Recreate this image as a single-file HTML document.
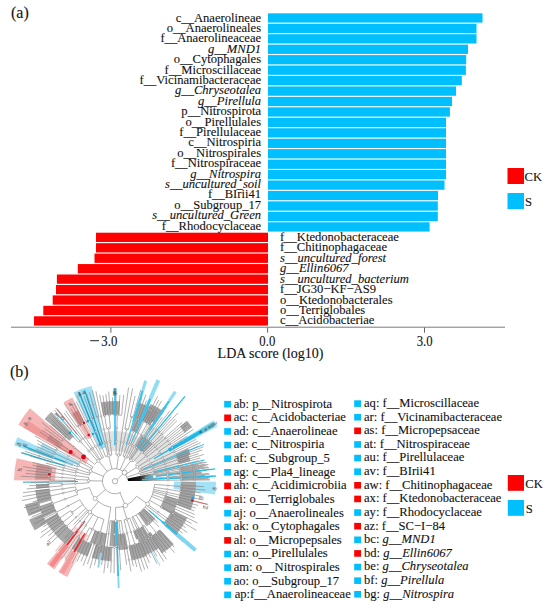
<!DOCTYPE html>
<html><head><meta charset="utf-8"><style>
html,body{margin:0;padding:0;background:#fff;}
body{width:550px;height:609px;overflow:hidden;position:relative;}
svg{position:absolute;left:0;top:0;}
text{font-family:"Liberation Serif",serif;fill:#111;stroke:#111;stroke-width:0.1px;}
.i{font-style:italic;}
</style></head><body>
<svg width="550" height="609" viewBox="0 0 550 609">
<text x="11" y="17.7" font-size="16">(a)</text>
<rect x="268.0" y="13.30" width="214.50" height="9.3" fill="#00BFFF"/>
<text x="261.1" y="21.55" font-size="12.6" text-anchor="end">c__Anaerolineae</text>
<rect x="268.0" y="23.75" width="208.50" height="9.3" fill="#00BFFF"/>
<text x="261.1" y="31.95" font-size="12.6" text-anchor="end">o__Anaerolineales</text>
<rect x="268.0" y="34.20" width="208.50" height="9.3" fill="#00BFFF"/>
<text x="261.1" y="42.36" font-size="12.6" text-anchor="end">f__Anaerolineaceae</text>
<rect x="268.0" y="44.64" width="200.00" height="9.3" fill="#00BFFF"/>
<text x="261.1" y="52.76" font-size="12.6" text-anchor="end" class="i">g__MND1</text>
<rect x="268.0" y="55.09" width="198.20" height="9.3" fill="#00BFFF"/>
<text x="261.1" y="63.16" font-size="12.6" text-anchor="end">o__Cytophagales</text>
<rect x="268.0" y="65.54" width="197.90" height="9.3" fill="#00BFFF"/>
<text x="261.1" y="73.57" font-size="12.6" text-anchor="end">f__Microscillaceae</text>
<rect x="268.0" y="75.99" width="193.80" height="9.3" fill="#00BFFF"/>
<text x="261.1" y="83.97" font-size="12.6" text-anchor="end">f__Vicinamibacteraceae</text>
<rect x="268.0" y="86.44" width="188.00" height="9.3" fill="#00BFFF"/>
<text x="261.1" y="94.37" font-size="12.6" text-anchor="end" class="i">g__Chryseotalea</text>
<rect x="268.0" y="96.88" width="184.00" height="9.3" fill="#00BFFF"/>
<text x="261.1" y="104.77" font-size="12.6" text-anchor="end" class="i">g__Pirellula</text>
<rect x="268.0" y="107.33" width="181.90" height="9.3" fill="#00BFFF"/>
<text x="261.1" y="115.18" font-size="12.6" text-anchor="end">p__Nitrospirota</text>
<rect x="268.0" y="117.78" width="178.00" height="9.3" fill="#00BFFF"/>
<text x="261.1" y="125.58" font-size="12.6" text-anchor="end">o__Pirellulales</text>
<rect x="268.0" y="128.23" width="178.00" height="9.3" fill="#00BFFF"/>
<text x="261.1" y="135.98" font-size="12.6" text-anchor="end">f__Pirellulaceae</text>
<rect x="268.0" y="138.68" width="178.00" height="9.3" fill="#00BFFF"/>
<text x="261.1" y="146.39" font-size="12.6" text-anchor="end">c__Nitrospiria</text>
<rect x="268.0" y="149.12" width="178.00" height="9.3" fill="#00BFFF"/>
<text x="261.1" y="156.79" font-size="12.6" text-anchor="end">o__Nitrospirales</text>
<rect x="268.0" y="159.57" width="178.00" height="9.3" fill="#00BFFF"/>
<text x="261.1" y="167.19" font-size="12.6" text-anchor="end">f__Nitrospiraceae</text>
<rect x="268.0" y="170.02" width="178.00" height="9.3" fill="#00BFFF"/>
<text x="261.1" y="177.59" font-size="12.6" text-anchor="end" class="i">g__Nitrospira</text>
<rect x="268.0" y="180.47" width="176.50" height="9.3" fill="#00BFFF"/>
<text x="261.1" y="188.00" font-size="12.6" text-anchor="end" class="i">s__uncultured_soil</text>
<rect x="268.0" y="190.92" width="170.00" height="9.3" fill="#00BFFF"/>
<text x="261.1" y="198.40" font-size="12.6" text-anchor="end">f__BIrii41</text>
<rect x="268.0" y="201.36" width="169.80" height="9.3" fill="#00BFFF"/>
<text x="261.1" y="208.80" font-size="12.6" text-anchor="end">o__Subgroup_17</text>
<rect x="268.0" y="211.81" width="169.80" height="9.3" fill="#00BFFF"/>
<text x="261.1" y="219.21" font-size="12.6" text-anchor="end" class="i">s__uncultured_Green</text>
<rect x="268.0" y="222.26" width="161.60" height="9.3" fill="#00BFFF"/>
<text x="261.1" y="229.61" font-size="12.6" text-anchor="end">f__Rhodocyclaceae</text>
<rect x="96" y="232.71" width="172.00" height="9.3" fill="#FF0000"/>
<text x="280" y="240.91" font-size="12.6">f__Ktedonobacteraceae</text>
<rect x="96" y="243.16" width="172.00" height="9.3" fill="#FF0000"/>
<text x="280" y="251.36" font-size="12.6">f__Chitinophagaceae</text>
<rect x="94.5" y="253.60" width="173.50" height="9.3" fill="#FF0000"/>
<text x="280" y="261.80" font-size="12.6" class="i">s__uncultured_forest</text>
<rect x="77.8" y="264.05" width="190.20" height="9.3" fill="#FF0000"/>
<text x="280" y="272.25" font-size="12.6" class="i">g__Ellin6067</text>
<rect x="56.9" y="274.50" width="211.10" height="9.3" fill="#FF0000"/>
<text x="280" y="282.70" font-size="12.6" class="i">s__uncultured_bacterium</text>
<rect x="56" y="284.95" width="212.00" height="9.3" fill="#FF0000"/>
<text x="280" y="293.15" font-size="12.6">f__JG30−KF−AS9</text>
<rect x="52.7" y="295.40" width="215.30" height="9.3" fill="#FF0000"/>
<text x="280" y="303.60" font-size="12.6">o__Ktedonobacterales</text>
<rect x="43.3" y="305.84" width="224.70" height="9.3" fill="#FF0000"/>
<text x="280" y="314.04" font-size="12.6">o__Terriglobales</text>
<rect x="34" y="316.29" width="234.00" height="9.3" fill="#FF0000"/>
<text x="280" y="324.49" font-size="12.6">c__Acidobacteriae</text>
<line x1="11" y1="327.2" x2="505" y2="327.2" stroke="#7a7a7a" stroke-width="1"/>
<line x1="110.9" y1="327.5" x2="110.9" y2="332.7" stroke="#555" stroke-width="0.9"/>
<line x1="267.6" y1="327.5" x2="267.6" y2="332.7" stroke="#555" stroke-width="0.9"/>
<line x1="424.5" y1="327.5" x2="424.5" y2="332.7" stroke="#555" stroke-width="0.9"/>
<rect x="90.2" y="340.2" width="8.8" height="1.0" fill="#222"/>
<text transform="translate(109.3,345.6) scale(0.91,1)" font-size="14" text-anchor="middle">3.0</text>
<text transform="translate(267.3,345.6) scale(0.91,1)" font-size="14" text-anchor="middle">0.0</text>
<text transform="translate(424.7,345.6) scale(0.91,1)" font-size="14" text-anchor="middle">3.0</text>
<text x="270.5" y="357.5" font-size="14" text-anchor="middle">LDA score (log10)</text>
<rect x="507.5" y="168" width="16.5" height="16" fill="#FF0000"/>
<rect x="507.5" y="193" width="16.5" height="16" fill="#00BFFF"/>
<text x="524.5" y="181.3" font-size="12.6">CK</text>
<text x="525" y="205.6" font-size="12.6">S</text>
<text x="10" y="376.7" font-size="16">(b)</text>
<rect x="224.2" y="400.90" width="6.8" height="6.6" fill="#00BFFF"/>
<text x="233.7" y="407.60" font-size="12.6" xml:space="preserve">ab: p__Nitrospirota</text>
<rect x="224.2" y="414.52" width="6.8" height="6.6" fill="#FF0000"/>
<text x="233.7" y="421.22" font-size="12.6" xml:space="preserve">ac: c__Acidobacteriae</text>
<rect x="224.2" y="428.14" width="6.8" height="6.6" fill="#00BFFF"/>
<text x="233.7" y="434.84" font-size="12.6" xml:space="preserve">ad: c__Anaerolineae</text>
<rect x="224.2" y="441.76" width="6.8" height="6.6" fill="#00BFFF"/>
<text x="233.7" y="448.46" font-size="12.6" xml:space="preserve">ae: c__Nitrospiria</text>
<rect x="224.2" y="455.38" width="6.8" height="6.6" fill="#00BFFF"/>
<text x="233.7" y="462.08" font-size="12.6" xml:space="preserve">af: c__Subgroup_5</text>
<rect x="224.2" y="469.00" width="6.8" height="6.6" fill="#00BFFF"/>
<text x="233.7" y="475.70" font-size="12.6" xml:space="preserve">ag: c__Pla4_lineage</text>
<rect x="224.2" y="482.62" width="6.8" height="6.6" fill="#FF0000"/>
<text x="233.7" y="489.32" font-size="12.6" xml:space="preserve">ah: c__Acidimicrobiia</text>
<rect x="224.2" y="496.24" width="6.8" height="6.6" fill="#FF0000"/>
<text x="233.7" y="502.94" font-size="12.6" xml:space="preserve">ai: o__Terriglobales</text>
<rect x="224.2" y="509.86" width="6.8" height="6.6" fill="#00BFFF"/>
<text x="233.7" y="516.56" font-size="12.6" xml:space="preserve">aj: o__Anaerolineales</text>
<rect x="224.2" y="523.48" width="6.8" height="6.6" fill="#00BFFF"/>
<text x="233.7" y="530.18" font-size="12.6" xml:space="preserve">ak: o__Cytophagales</text>
<rect x="224.2" y="537.10" width="6.8" height="6.6" fill="#FF0000"/>
<text x="233.7" y="543.80" font-size="12.6" xml:space="preserve">al: o__Micropepsales</text>
<rect x="224.2" y="550.72" width="6.8" height="6.6" fill="#00BFFF"/>
<text x="233.7" y="557.42" font-size="12.6" xml:space="preserve">an: o__Pirellulales</text>
<rect x="224.2" y="564.34" width="6.8" height="6.6" fill="#00BFFF"/>
<text x="233.7" y="571.04" font-size="12.6" xml:space="preserve">am: o__Nitrospirales</text>
<rect x="224.2" y="577.96" width="6.8" height="6.6" fill="#00BFFF"/>
<text x="233.7" y="584.66" font-size="12.6" xml:space="preserve">ao: o__Subgroup_17</text>
<rect x="224.2" y="591.58" width="6.8" height="6.6" fill="#00BFFF"/>
<text x="234.7" y="598.28" font-size="12.6" xml:space="preserve">ap:f__Anaerolineaceae</text>
<rect x="354.2" y="400.30" width="6.8" height="6.6" fill="#00BFFF"/>
<text x="364.0" y="407.00" font-size="12.6" xml:space="preserve">aq: f__Microscillaceae</text>
<rect x="354.2" y="413.92" width="6.8" height="6.6" fill="#00BFFF"/>
<text x="364.0" y="420.62" font-size="12.6" xml:space="preserve">ar: f__Vicinamibacteraceae</text>
<rect x="354.2" y="427.54" width="6.8" height="6.6" fill="#FF0000"/>
<text x="364.0" y="434.24" font-size="12.6" xml:space="preserve">as: f__Micropepsaceae</text>
<rect x="354.2" y="441.16" width="6.8" height="6.6" fill="#00BFFF"/>
<text x="364.0" y="447.86" font-size="12.6" xml:space="preserve">at: f__Nitrospiraceae</text>
<rect x="354.2" y="454.78" width="6.8" height="6.6" fill="#00BFFF"/>
<text x="364.0" y="461.48" font-size="12.6" xml:space="preserve">au: f__Pirellulaceae</text>
<rect x="354.2" y="468.40" width="6.8" height="6.6" fill="#00BFFF"/>
<text x="364.0" y="475.10" font-size="12.6" xml:space="preserve">av: f__BIrii41</text>
<rect x="354.2" y="482.02" width="6.8" height="6.6" fill="#FF0000"/>
<text x="364.0" y="488.72" font-size="12.6" xml:space="preserve">aw: f__Chitinophagaceae</text>
<rect x="354.2" y="495.64" width="6.8" height="6.6" fill="#FF0000"/>
<text x="364.0" y="502.34" font-size="12.6" xml:space="preserve">ax: f__Ktedonobacteraceae</text>
<rect x="354.2" y="509.26" width="6.8" height="6.6" fill="#00BFFF"/>
<text x="364.0" y="515.96" font-size="12.6" xml:space="preserve">ay: f__Rhodocyclaceae</text>
<rect x="354.2" y="522.88" width="6.8" height="6.6" fill="#FF0000"/>
<text x="364.0" y="529.58" font-size="12.6" xml:space="preserve">az: f__SC−I−84</text>
<rect x="354.2" y="536.50" width="6.8" height="6.6" fill="#00BFFF"/>
<text x="364.0" y="543.20" font-size="12.6" xml:space="preserve">bc: <tspan class="i">g__MND1</tspan></text>
<rect x="354.2" y="550.12" width="6.8" height="6.6" fill="#FF0000"/>
<text x="364.0" y="556.82" font-size="12.6" xml:space="preserve">bd: <tspan class="i">g__Ellin6067</tspan></text>
<rect x="354.2" y="563.74" width="6.8" height="6.6" fill="#00BFFF"/>
<text x="364.0" y="570.44" font-size="12.6" xml:space="preserve">be: <tspan class="i">g__Chryseotalea</tspan></text>
<rect x="354.2" y="577.36" width="6.8" height="6.6" fill="#00BFFF"/>
<text x="364.0" y="584.06" font-size="12.6" xml:space="preserve">bf: <tspan class="i">g__Pirellula</tspan></text>
<rect x="354.2" y="590.98" width="6.8" height="6.6" fill="#00BFFF"/>
<text x="364.0" y="597.68" font-size="12.6" xml:space="preserve">bg: <tspan class="i">g__Nitrospira</tspan></text>
<rect x="507.8" y="475" width="16.2" height="15.8" fill="#FF0000"/>
<rect x="507.8" y="500" width="16.2" height="15.8" fill="#00BFFF"/>
<text x="525.3" y="487.6" font-size="12.6">CK</text>
<text x="525.8" y="513" font-size="12.6">S</text>
<g stroke="none">
<path d="M216.00,481.73A101.00,101.00 0 0 1 215.14,494.38L173.50,488.90A59.00,59.00 0 0 0 174.00,481.51Z" fill="#a2e2f6"/>
<path d="M73.58,392.38A98.00,98.00 0 0 1 91.29,386.11L106.53,447.24A35.00,35.00 0 0 0 100.21,449.48Z" fill="#a2e2f6"/>
<path d="M14.14,445.48A107.00,107.00 0 0 1 17.40,437.34L73.95,462.75A45.00,45.00 0 0 0 72.58,466.18Z" fill="#a2e2f6"/>
<path d="M39.52,449.16A82.00,82.00 0 0 1 42.27,443.34L80.41,463.19A39.00,39.00 0 0 0 79.10,465.96Z" fill="#a2e2f6"/>
<path d="M213.69,420.25A116.00,116.00 0 0 1 217.33,426.56L181.16,445.87A75.00,75.00 0 0 0 178.81,441.79Z" fill="#a2e2f6"/>
<path d="M14.00,480.32A101.00,101.00 0 0 1 16.67,458.14L56.59,467.50A60.00,60.00 0 0 0 55.00,480.68Z" fill="#f6b6b6"/>
<path d="M18.30,424.69A112.00,112.00 0 0 1 29.96,408.31L89.18,459.07A34.00,34.00 0 0 0 85.64,464.05Z" fill="#f6b6b6"/>
<path d="M63.80,402.36A94.00,94.00 0 0 1 72.32,397.45L92.30,436.65A50.00,50.00 0 0 0 87.77,439.27Z" fill="#f6b6b6"/>
<path d="M54.39,569.38A107.00,107.00 0 0 1 46.94,563.76L75.56,529.04A62.00,62.00 0 0 0 79.88,532.30Z" fill="#f6b6b6"/>
<path d="M67.26,576.96A107.00,107.00 0 0 1 58.30,571.94L82.15,533.78A62.00,62.00 0 0 0 87.34,536.69Z" fill="#f6b6b6"/>
<path d="M74.67,563.89A92.00,92.00 0 0 1 54.64,550.63L75.64,526.48A60.00,60.00 0 0 0 88.70,535.13Z" fill="#fbd6d6"/>
<path d="M35.02,479.52A80.00,80.00 0 0 1 36.90,463.88L52.52,467.35A64.00,64.00 0 0 0 51.01,479.86Z" fill="#cf9494"/>
<path d="M23.67,427.40A106.00,106.00 0 0 1 28.17,420.40L75.68,453.67A48.00,48.00 0 0 0 73.64,456.84Z" fill="#f09a9a"/>
<path d="M46.43,440.00A80.00,80.00 0 0 1 49.87,434.74L62.90,444.04A64.00,64.00 0 0 0 60.14,448.24Z" fill="#d48888"/>
<path d="M72.02,413.73A80.00,80.00 0 0 1 78.06,410.24L84.99,423.54A65.00,65.00 0 0 0 80.08,426.38Z" fill="#dc8484"/>
<path d="M148.00,424.04A66.00,66.00 0 0 1 179.31,466.35L142.28,474.90A28.00,28.00 0 0 0 129.00,456.95Z M102.06,432.90A50.00,50.00 0 0 1 140.00,437.90L130.00,455.22A30.00,30.00 0 0 0 107.24,452.22Z" fill="#e2e2e2"/>
<path d="M196.00,481.91A81.00,81.00 0 0 1 190.62,510.23L176.62,504.85A66.00,66.00 0 0 0 181.00,481.78Z M178.44,499.39A66.00,66.00 0 0 1 172.16,514.20L160.03,507.20A52.00,52.00 0 0 0 164.99,495.53Z M187.17,517.97A81.00,81.00 0 0 1 177.05,533.27L164.03,522.34A64.00,64.00 0 0 0 172.02,510.26Z M155.22,518.71A55.00,55.00 0 0 1 146.55,526.25L137.94,513.97A40.00,40.00 0 0 0 144.25,508.48Z M173.65,544.10A86.00,86.00 0 0 1 161.84,553.33L150.95,536.55A66.00,66.00 0 0 0 160.01,529.47Z M160.89,546.73A80.00,80.00 0 0 1 144.97,555.37L138.23,538.69A62.00,62.00 0 0 0 150.56,531.99Z M147.85,533.78A62.00,62.00 0 0 1 136.21,539.46L133.13,531.00A53.00,53.00 0 0 0 143.09,526.15Z M146.65,555.76A81.00,81.00 0 0 1 131.84,560.43L128.72,545.76A66.00,66.00 0 0 0 140.79,541.95Z M128.17,548.93A69.00,69.00 0 0 1 118.61,550.11L117.77,534.13A53.00,53.00 0 0 0 125.11,533.23Z M119.53,546.04A65.00,65.00 0 0 1 109.33,545.95L111.51,521.05A40.00,40.00 0 0 0 117.79,521.10Z M110.81,561.09A80.00,80.00 0 0 1 91.61,557.70L95.70,544.32A66.00,66.00 0 0 0 111.55,547.11Z M104.68,546.39A66.00,66.00 0 0 1 90.28,542.39L95.15,530.34A53.00,53.00 0 0 0 106.71,533.55Z M87.64,556.38A80.00,80.00 0 0 1 71.43,548.29L78.51,537.39A67.00,67.00 0 0 0 92.08,544.16Z M65.75,544.24A80.00,80.00 0 0 1 53.72,532.62L64.44,523.62A66.00,66.00 0 0 0 74.37,533.21Z M53.27,532.09A80.00,80.00 0 0 1 45.03,519.98L57.28,513.20A66.00,66.00 0 0 0 64.07,523.18Z M34.85,530.31A94.00,94.00 0 0 1 29.13,519.43L41.92,513.74A80.00,80.00 0 0 0 46.79,523.00Z M43.72,517.52A80.00,80.00 0 0 1 39.36,507.25L52.60,502.69A66.00,66.00 0 0 0 56.19,511.16Z M28.77,516.04A93.00,93.00 0 0 1 24.96,504.49L38.52,500.98A79.00,79.00 0 0 0 41.75,510.79Z M38.10,503.25A80.00,80.00 0 0 1 35.51,490.26L49.42,488.67A66.00,66.00 0 0 0 51.56,499.39Z M36.36,488.77A79.00,79.00 0 0 1 36.06,484.37L49.05,483.85A66.00,66.00 0 0 0 49.30,487.53Z M44.60,418.91A94.00,94.00 0 0 1 51.49,411.90L73.79,436.23A61.00,61.00 0 0 0 69.31,440.78Z M101.11,402.42A80.00,80.00 0 0 1 119.88,401.35L119.09,414.32A67.00,67.00 0 0 0 103.37,415.22Z M138.97,402.78A82.00,82.00 0 0 1 158.45,411.66L149.97,425.23A66.00,66.00 0 0 0 134.30,418.08Z M150.92,404.16A85.00,85.00 0 0 1 163.75,411.57L155.15,423.86A70.00,70.00 0 0 0 144.58,417.76Z M141.50,435.30A53.00,53.00 0 0 1 152.48,443.72L143.28,452.92A40.00,40.00 0 0 0 135.00,446.56Z M187.01,420.78A94.00,94.00 0 0 1 192.00,427.28L184.63,432.45A85.00,85.00 0 0 0 180.11,426.56Z M188.08,448.66A80.00,80.00 0 0 1 190.41,454.50L178.16,458.83A67.00,67.00 0 0 0 176.21,453.95Z M186.80,450.72A78.00,78.00 0 0 1 190.34,461.01L178.75,464.12A66.00,66.00 0 0 0 175.75,455.41Z M135.40,418.43A66.00,66.00 0 0 1 142.89,421.38L137.40,433.17A53.00,53.00 0 0 0 131.38,430.79Z" fill="#b6b6b6"/>
<path d="M180.99,482.38L195.99,482.65 M180.96,483.59L195.95,484.14 M180.90,484.80L195.88,485.62 M180.82,486.01L195.78,487.11 M180.72,487.22L195.66,488.59 M180.60,488.43L195.51,490.07 M180.46,489.63L195.34,491.55 M180.29,490.83L195.13,493.02 M180.11,492.03L194.90,494.49 M179.90,493.22L194.64,495.96 M179.66,494.41L194.36,497.42 M179.41,495.60L194.05,498.87 M179.13,496.78L193.71,500.32 M178.84,497.96L193.35,501.76 M178.52,499.13L192.96,503.20 M178.18,500.29L192.54,504.63 M177.82,501.45L192.09,506.05 M177.44,502.60L191.63,507.46 M177.03,503.74L191.13,508.86 M164.82,496.10L178.23,500.12 M164.46,497.24L177.78,501.56 M164.08,498.37L177.30,502.99 M163.68,499.49L176.78,504.41 M163.25,500.59L176.24,505.82 M162.79,501.69L175.66,507.21 M162.31,502.78L175.05,508.59 M161.80,503.86L174.40,509.96 M161.27,504.92L173.73,511.31 M160.72,505.98L173.03,512.65 M160.14,507.02L172.29,513.97 M171.75,510.79L186.83,518.64 M171.19,511.84L186.12,519.97 M170.61,512.88L185.38,521.29 M170.01,513.91L184.62,522.60 M169.39,514.93L183.84,523.88 M168.76,515.93L183.03,525.16 M168.10,516.93L182.20,526.42 M167.42,517.91L181.35,527.66 M166.73,518.88L180.47,528.89 M166.02,519.84L179.57,530.10 M165.29,520.78L178.65,531.29 M164.55,521.71L177.71,532.47 M143.86,508.89L154.69,519.28 M143.06,509.70L153.59,520.39 M142.24,510.49L152.46,521.47 M141.40,511.25L151.30,522.52 M140.54,511.99L150.11,523.53 M139.65,512.70L148.89,524.51 M138.75,513.39L147.65,525.46 M159.58,529.87L173.09,544.61 M158.71,530.65L171.96,545.64 M157.82,531.42L170.80,546.64 M156.93,532.17L169.63,547.62 M156.01,532.91L168.44,548.58 M155.09,533.63L167.24,549.52 M154.15,534.33L166.02,550.43 M153.20,535.02L164.78,551.33 M152.24,535.69L163.52,552.20 M151.27,536.34L162.26,553.05 M150.08,532.32L160.26,547.17 M149.10,532.98L159.00,548.01 M148.11,533.62L157.72,548.84 M147.11,534.24L156.43,549.64 M146.09,534.84L155.12,550.41 M145.07,535.42L153.79,551.16 M144.03,535.98L152.46,551.89 M142.98,536.53L151.11,552.59 M141.93,537.05L149.74,553.26 M140.86,537.55L148.37,553.91 M139.78,538.03L146.98,554.53 M138.70,538.49L145.58,555.13 M142.56,526.47L147.24,534.16 M141.49,527.11L145.98,534.90 M140.40,527.72L144.71,535.62 M139.30,528.30L143.43,536.30 M138.19,528.86L142.13,536.95 M137.06,529.39L140.81,537.57 M135.93,529.89L139.48,538.16 M134.78,530.37L138.14,538.72 M133.62,530.82L136.78,539.25 M140.23,542.19L145.96,556.05 M139.10,542.64L144.58,556.60 M137.97,543.07L143.19,557.14 M136.83,543.48L141.79,557.64 M135.68,543.87L140.39,558.12 M134.53,544.24L138.97,558.57 M133.37,544.59L137.54,559.00 M132.20,544.92L136.11,559.40 M131.03,545.22L134.67,559.78 M129.85,545.51L133.22,560.12 M124.54,533.33L127.42,549.07 M123.38,533.53L125.91,549.33 M122.22,533.71L124.40,549.56 M121.06,533.85L122.89,549.75 M119.89,533.97L121.37,549.91 M118.72,534.07L119.84,550.03 M117.28,521.14L118.70,546.09 M116.25,521.18L117.03,546.17 M115.22,521.20L115.36,546.20 M114.19,521.19L113.69,546.19 M113.16,521.16L112.02,546.13 M112.14,521.10L110.35,546.03 M110.94,547.07L110.07,561.05 M109.72,546.99L108.60,560.94 M108.50,546.88L107.13,560.81 M107.29,546.75L105.65,560.65 M106.08,546.59L104.19,560.47 M104.87,546.42L102.72,560.25 M103.67,546.22L101.26,560.01 M102.47,546.00L99.81,559.74 M101.27,545.76L98.36,559.45 M100.08,545.49L96.91,559.13 M98.89,545.20L95.48,558.78 M97.71,544.90L94.04,558.41 M96.54,544.56L92.62,558.01 M106.12,533.45L103.94,546.27 M104.93,533.24L102.46,546.00 M103.75,532.99L101.00,545.70 M102.58,532.72L99.54,545.36 M101.42,532.43L98.08,545.00 M100.26,532.11L96.64,544.60 M99.11,531.76L95.21,544.16 M97.96,531.39L93.79,543.70 M96.83,530.99L92.37,543.20 M95.70,530.56L90.97,542.67 M91.51,543.95L86.95,556.12 M90.36,543.50L85.58,555.59 M89.22,543.04L84.22,555.04 M88.09,542.56L82.87,554.46 M86.97,542.05L81.53,553.86 M85.85,541.53L80.20,553.23 M84.75,540.98L78.88,552.58 M83.66,540.42L77.57,551.91 M82.57,539.83L76.28,551.21 M81.50,539.23L75.00,550.48 M80.44,538.60L73.74,549.74 M79.39,537.96L72.49,548.97 M73.89,532.83L65.17,543.78 M72.94,532.06L64.02,542.85 M72.01,531.28L62.89,541.90 M71.09,530.47L61.77,540.92 M70.18,529.65L60.68,539.93 M69.30,528.81L59.60,538.91 M68.42,527.96L58.54,537.88 M67.57,527.09L57.50,536.83 M66.73,526.21L56.49,535.75 M65.90,525.31L55.49,534.66 M65.09,524.39L54.51,533.55 M63.69,522.71L52.80,531.51 M62.93,521.75L51.88,530.35 M62.19,520.78L50.98,529.18 M61.46,519.80L50.11,527.99 M60.76,518.80L49.25,526.78 M60.07,517.79L48.42,525.56 M59.41,516.77L47.61,524.32 M58.76,515.74L46.83,523.06 M58.13,514.69L46.07,521.80 M57.52,513.63L45.33,520.51 M46.47,522.47L34.47,529.69 M45.83,521.40L33.73,528.44 M45.22,520.32L33.01,527.17 M44.62,519.24L32.30,525.89 M44.04,518.14L31.62,524.60 M43.47,517.03L30.96,523.30 M42.93,515.92L30.31,522.00 M42.40,514.80L29.69,520.68 M55.92,510.62L43.39,516.86 M55.39,509.52L42.74,515.53 M54.87,508.41L42.12,514.19 M54.38,507.30L41.52,512.83 M53.91,506.17L40.95,511.47 M53.46,505.04L40.40,510.09 M53.02,503.90L39.88,508.71 M52.62,502.75L39.38,507.32 M41.52,510.22L28.50,515.36 M41.08,509.06L27.98,514.00 M40.65,507.90L27.47,512.63 M40.24,506.73L26.99,511.25 M39.85,505.55L26.53,509.87 M39.47,504.37L26.09,508.47 M39.12,503.18L25.67,507.07 M38.78,501.99L25.28,505.67 M51.39,498.80L37.90,502.54 M51.08,497.63L37.52,501.11 M50.78,496.44L37.16,499.67 M50.51,495.25L36.83,498.23 M50.26,494.06L36.53,496.78 M50.04,492.86L36.26,495.33 M49.83,491.65L36.01,493.87 M49.65,490.45L35.79,492.41 M49.49,489.24L35.60,490.94 M49.25,486.91L36.30,488.04 M49.15,485.69L36.18,486.57 M49.08,484.46L36.10,485.10 M69.67,440.38L45.14,418.30 M70.39,439.60L46.25,417.10 M71.12,438.83L47.38,415.91 M71.86,438.07L48.52,414.74 M72.62,437.33L49.69,413.59 M73.39,436.60L50.88,412.46 M103.97,415.11L101.83,402.29 M105.19,414.92L103.28,402.06 M106.41,414.75L104.74,401.86 M107.63,414.61L106.20,401.69 M108.85,414.48L107.66,401.54 M110.08,414.38L109.12,401.42 M111.31,414.30L110.59,401.32 M112.54,414.25L112.06,401.25 M113.77,414.21L113.53,401.21 M115.00,414.20L115.00,401.20 M116.23,414.21L116.47,401.21 M117.46,414.25L117.93,401.25 M118.69,414.30L119.40,401.32 M134.87,418.26L139.69,403.00 M136.02,418.64L141.11,403.47 M137.15,419.03L142.52,403.96 M138.28,419.44L143.93,404.47 M139.41,419.88L145.32,405.01 M140.52,420.33L146.71,405.58 M141.63,420.81L148.08,406.17 M142.73,421.31L149.45,406.79 M143.81,421.82L150.80,407.43 M144.89,422.36L152.14,408.09 M145.96,422.91L153.47,408.78 M147.02,423.49L154.78,409.50 M148.07,424.08L156.08,410.23 M149.10,424.69L157.37,410.99 M145.13,418.02L151.59,404.48 M146.23,418.55L152.92,405.13 M147.32,419.11L154.24,405.80 M148.39,419.68L155.55,406.50 M149.46,420.27L156.84,407.21 M150.52,420.88L158.13,407.95 M151.56,421.51L159.40,408.72 M152.60,422.15L160.65,409.50 M153.62,422.82L161.89,410.31 M154.63,423.50L163.12,411.13 M135.50,446.85L142.16,435.69 M136.49,447.46L143.47,436.50 M137.46,448.10L144.76,437.34 M138.41,448.77L146.02,438.23 M139.34,449.46L147.25,439.14 M140.25,450.18L148.46,440.10 M141.14,450.93L149.64,441.09 M142.01,451.70L150.79,442.11 M142.86,452.49L151.91,443.16 M180.52,427.06L187.46,421.32 M181.33,428.05L188.36,422.42 M182.13,429.06L189.23,423.54 M182.91,430.08L190.10,424.66 M183.67,431.11L190.94,425.80 M184.42,432.15L191.77,426.95 M176.46,454.51L188.38,449.33 M176.94,455.65L188.95,450.69 M177.39,456.79L189.50,452.05 M177.83,457.94L190.02,453.42 M175.99,455.98L187.08,451.40 M176.45,457.13L187.63,452.75 M176.89,458.29L188.15,454.12 M177.31,459.45L188.64,455.50 M177.71,460.62L189.11,456.88 M178.09,461.80L189.56,458.28 M178.44,462.99L189.97,459.68 M131.95,430.98L136.11,418.67 M133.08,431.38L137.52,419.16 M134.21,431.80L138.92,419.69 M135.32,432.25L140.31,420.25 M136.43,432.73L141.69,420.84" stroke="#969696" stroke-width="0.75" fill="none"/>
</g>
<g fill="none" stroke="#7c7c7c" stroke-width="0.6">
<path d="M136.66,496.29A26.40,26.40 0 0 1 115.47,507.60 M136.66,496.29L147.66,503.95 M154.67,484.41A39.80,39.80 0 0 1 131.75,517.30 M154.67,484.41L167.93,485.48 M167.93,485.48L181.08,486.54 M181.17,485.32A66.30,66.30 0 0 1 180.97,487.77 M181.17,485.32L203.81,486.73 M180.97,487.77L205.41,490.20 M154.32,487.33L167.47,489.38 M167.47,489.38L180.51,491.42 M180.69,490.20A66.30,66.30 0 0 1 180.31,492.63 M180.69,490.20L200.86,492.97 M180.31,492.63L202.52,496.52 M153.92,489.51L166.93,492.29 M166.93,492.29L202.53,499.88 M153.59,490.94L166.48,494.20 M166.48,494.20L207.08,504.45 M153.20,492.37L165.97,496.10 M165.97,496.10L178.64,499.80 M178.64,499.80L198.05,505.48 M152.52,494.47L165.06,498.91 M165.06,498.91L177.51,503.31 M177.90,502.15A66.30,66.30 0 0 1 177.09,504.46 M177.90,502.15L195.82,508.11 M177.09,504.46L194.35,510.93 M151.73,496.53L194.68,514.47 M149.80,500.51L161.43,506.97 M161.43,506.97L172.97,513.37 M175.19,508.99A66.30,66.30 0 0 1 170.43,517.57 M175.19,508.99L194.60,517.95 M174.12,511.20L197.54,523.09 M172.97,513.37L191.65,523.73 M171.74,515.50L183.21,522.43 M183.21,522.43L196.30,530.34 M170.43,517.57L185.78,527.65 M147.44,504.25L158.29,511.96 M158.29,511.96L187.49,532.70 M146.57,505.44L182.77,533.23 M145.17,507.15L155.26,515.83 M155.26,515.83L165.26,524.43 M166.06,523.50A66.30,66.30 0 0 1 164.46,525.36 M166.06,523.50L181.49,536.28 M164.46,525.36L183.43,542.30 M143.69,508.79L157.67,522.24 M142.64,509.83L159.12,526.90 M139.88,512.27L148.19,522.65 M148.19,522.65L156.44,532.95 M159.25,530.57A66.30,66.30 0 0 1 153.51,535.17 M159.25,530.57L174.31,547.37 M157.39,532.17L174.55,552.80 M155.48,533.71L167.69,549.55 M153.51,535.17L166.14,552.88 M135.97,515.03L142.97,526.33 M144.22,525.54A53.10,53.10 0 0 1 141.71,527.09 M144.22,525.54L151.48,536.56 M151.48,536.56L166.46,559.30 M141.71,527.09L148.35,538.50 M149.41,537.87A66.30,66.30 0 0 1 147.28,539.11 M149.41,537.87L163.78,561.55 M147.28,539.11L156.92,556.39 M133.08,516.66L139.12,528.51 M139.12,528.51L145.12,540.26 M145.12,540.26L157.03,563.63 M131.75,517.30L137.35,529.37 M137.35,529.37L150.54,557.78 M122.92,506.38L126.95,519.16 M129.72,518.18A39.80,39.80 0 0 1 124.10,519.94 M129.72,518.18L134.64,530.53 M134.64,530.53L139.53,542.80 M140.66,542.33A66.30,66.30 0 0 1 138.38,543.24 M140.66,542.33L149.30,562.90 M138.38,543.24L147.96,568.67 M126.95,519.16L130.94,531.85 M130.94,531.85L134.90,544.44 M136.07,544.06A66.30,66.30 0 0 1 133.73,544.80 M136.07,544.06L144.67,569.74 M133.73,544.80L141.57,571.46 M124.10,519.94L127.15,532.89 M127.15,532.89L130.16,545.74 M131.36,545.45A66.30,66.30 0 0 1 128.97,546.01 M131.36,545.45L136.84,566.99 M128.97,546.01L133.35,566.35 M115.47,507.60L115.71,520.99 M121.21,520.51A39.80,39.80 0 0 1 110.19,520.71 M121.21,520.51L123.29,533.65 M123.29,533.65L125.35,546.69 M126.56,546.48A66.30,66.30 0 0 1 124.13,546.87 M126.56,546.48L128.89,559.68 M128.89,559.68L130.97,571.40 M124.13,546.87L126.62,564.78 M119.02,520.80L121.47,544.98 M114.60,521.00L114.47,534.30 M114.47,534.30L114.34,547.50 M119.25,547.36A66.30,66.30 0 0 1 109.43,547.27 M119.25,547.36L120.72,570.32 M116.79,547.48L117.57,576.16 M114.34,547.50L114.08,573.30 M111.88,547.43L111.25,560.81 M111.25,560.81L110.69,572.84 M109.43,547.27L107.68,568.11 M110.19,520.71L108.58,533.91 M108.58,533.91L106.99,547.01 M106.99,547.01L105.37,560.32 M105.37,560.32L103.80,573.22 M110.80,507.26A26.40,26.40 0 0 1 89.39,487.61 M110.80,507.26L101.51,564.92 M98.35,501.69L89.90,512.09 M103.99,519.45A39.80,39.80 0 0 1 79.82,499.81 M103.99,519.45L100.31,532.23 M102.37,532.78A53.10,53.10 0 0 1 98.27,531.60 M102.37,532.78L99.23,545.60 M101.83,546.18A66.30,66.30 0 0 1 96.66,544.91 M101.83,546.18L98.32,563.52 M99.23,545.60L94.42,565.25 M96.66,544.91L89.89,568.42 M98.27,531.60L94.11,544.12 M94.11,544.12L87.49,564.07 M98.01,517.19L92.33,529.22 M95.26,530.50A53.10,53.10 0 0 1 89.48,527.76 M95.26,530.50L90.36,542.75 M91.60,543.23A66.30,66.30 0 0 1 89.13,542.24 M91.60,543.23L83.13,565.69 M89.13,542.24L81.06,561.27 M92.33,529.22L77.11,561.45 M89.48,527.76L83.13,539.34 M84.31,539.97A66.30,66.30 0 0 1 81.97,538.69 M84.31,539.97L72.18,563.19 M81.97,538.69L71.42,557.05 M93.13,514.45L85.82,525.56 M85.82,525.56L78.57,536.59 M79.69,537.31A66.30,66.30 0 0 1 77.46,535.85 M79.69,537.31L65.01,560.63 M77.46,535.85L61.33,559.33 M90.53,512.59L82.35,523.08 M82.35,523.08L74.24,533.49 M75.30,534.30A66.30,66.30 0 0 1 73.19,532.66 M75.30,534.30L58.60,556.63 M73.19,532.66L58.43,550.84 M88.68,511.06L79.89,521.03 M79.89,521.03L64.38,538.62 M87.50,509.98L73.63,524.49 M85.82,508.27L76.07,517.31 M76.07,517.31L66.39,526.29 M67.31,527.26A66.30,66.30 0 0 1 65.50,525.30 M67.31,527.26L51.77,542.26 M65.50,525.30L47.01,541.77 M82.78,504.56L72.01,512.37 M73.30,514.07A53.10,53.10 0 0 1 70.79,510.61 M73.30,514.07L62.93,522.24 M63.76,523.28A66.30,66.30 0 0 1 62.11,521.18 M63.76,523.28L48.26,536.01 M62.11,521.18L40.38,537.61 M70.79,510.61L59.80,517.92 M60.55,519.03A66.30,66.30 0 0 1 59.07,516.81 M60.55,519.03L41.18,532.49 M59.07,516.81L43.42,526.78 M79.82,499.81L68.06,506.03 M68.06,506.03L56.39,512.20 M57.69,514.53A66.30,66.30 0 0 1 55.20,509.82 M57.69,514.53L40.69,524.42 M56.39,512.20L33.81,524.15 M55.20,509.82L35.80,519.10 M89.39,487.61L76.39,490.87 M77.56,494.69A39.80,39.80 0 0 1 75.62,486.95 M77.56,494.69L65.04,499.20 M65.04,499.20L52.63,503.68 M54.09,507.40A66.30,66.30 0 0 1 51.39,499.88 M54.09,507.40L31.47,517.12 M53.09,504.93L30.14,513.72 M52.19,502.42L39.49,506.71 M39.49,506.71L29.49,510.09 M51.39,499.88L38.53,503.65 M38.53,503.65L23.85,507.96 M76.21,490.09L63.24,493.06 M63.24,493.06L50.38,496.01 M50.69,497.31A66.30,66.30 0 0 1 50.09,494.71 M50.69,497.31L32.85,501.78 M50.09,494.71L36.97,497.44 M36.97,497.44L21.99,500.56 M75.62,486.95L62.46,488.87 M62.46,488.87L49.39,490.77 M49.60,492.09A66.30,66.30 0 0 1 49.22,489.45 M49.60,492.09L22.77,496.56 M49.22,489.45L35.92,491.12 M35.92,491.12L23.02,492.74 M88.65,482.81A26.40,26.40 0 0 1 88.86,477.53 M88.65,482.81L75.27,483.63 M75.27,483.63L62.00,484.44 M62.10,485.83A53.10,53.10 0 0 1 61.93,483.05 M62.10,485.83L26.70,488.93 M61.93,483.05L48.74,483.51 M48.79,484.67A66.30,66.30 0 0 1 48.71,482.36 M48.79,484.67L29.23,485.69 M48.71,482.36L35.31,482.59 M35.31,482.59L30.63,482.67 M88.63,480.05L75.24,479.46 M75.21,480.51A39.80,39.80 0 0 1 75.30,478.42 M75.21,480.51L48.90,480.05 M75.30,478.42L62.03,477.50 M62.03,477.50L48.86,476.58 M48.79,477.73A66.30,66.30 0 0 1 48.95,475.42 M48.79,477.73L35.41,477.03 M35.41,477.03L20.69,476.26 M48.95,475.42L25.55,473.37 M88.86,477.53L75.59,475.66 M75.59,475.66L62.42,473.81 M62.42,473.81L49.35,471.97 M49.19,473.12A66.30,66.30 0 0 1 49.52,470.83 M49.19,473.12L26.37,470.32 M49.52,470.83L22.85,466.60 M89.30,475.15A26.40,26.40 0 0 1 92.80,466.92 M89.30,475.15L76.26,472.08 M76.05,473.02A39.80,39.80 0 0 1 76.49,471.14 M76.05,473.02L63.03,470.29 M63.03,470.29L50.11,467.58 M49.90,468.63A66.30,66.30 0 0 1 50.34,466.53 M49.90,468.63L32.47,465.26 M50.34,466.53L32.61,462.50 M76.49,471.14L63.62,467.78 M63.62,467.78L45.80,463.12 M89.81,473.29L77.03,469.28 M77.03,469.28L64.34,465.30 M64.34,465.30L51.74,461.34 M51.43,462.37A66.30,66.30 0 0 1 52.07,460.32 M51.43,462.37L30.10,456.05 M52.07,460.32L39.36,456.10 M39.36,456.10L24.83,451.28 M90.70,470.88L78.36,465.65 M77.88,466.84A39.80,39.80 0 0 1 78.89,464.47 M77.88,466.84L65.47,462.05 M65.47,462.05L53.16,457.29 M52.78,458.29A66.30,66.30 0 0 1 53.56,456.29 M52.78,458.29L27.67,449.05 M53.56,456.29L41.14,451.25 M41.14,451.25L36.05,449.19 M78.89,464.47L66.82,458.88 M66.82,458.88L54.84,453.33 M54.40,454.31A66.30,66.30 0 0 1 55.30,452.36 M54.40,454.31L37.31,446.73 M55.30,452.36L37.44,443.73 M91.81,468.57L80.05,462.17 M80.05,462.17L68.37,455.80 M68.37,455.80L56.77,449.49 M56.27,450.44A66.30,66.30 0 0 1 57.30,448.55 M56.27,450.44L37.13,440.41 M57.30,448.55L34.89,435.88 M92.80,466.92L81.53,459.67 M81.53,459.67L70.34,452.47 M69.66,453.57A53.10,53.10 0 0 1 71.05,451.40 M69.66,453.57L54.77,444.50 M71.05,451.40L60.13,443.99 M59.53,444.88A66.30,66.30 0 0 1 60.74,443.10 M59.53,444.88L39.82,431.98 M60.74,443.10L42.13,430.04 M94.67,464.36A26.40,26.40 0 0 1 103.47,457.45 M94.67,464.36L84.34,455.82 M84.34,455.82L74.10,447.33 M74.10,447.33L63.93,438.92 M61.99,441.39A66.30,66.30 0 0 1 66.00,436.54 M61.99,441.39L51.27,433.34 M51.27,433.34L44.77,428.46 M63.27,439.73L41.82,422.53 M64.61,438.11L49.91,425.54 M66.00,436.54L52.16,423.93 M97.73,461.23L88.96,451.10 M88.96,451.10L80.26,441.04 M78.70,442.44A53.10,53.10 0 0 1 81.88,439.70 M78.70,442.44L69.68,432.81 M67.43,435.01A66.30,66.30 0 0 1 72.02,430.71 M67.43,435.01L51.93,419.96 M68.92,433.53L53.54,417.62 M70.45,432.10L57.07,417.35 M72.02,430.71L54.47,410.09 M81.88,439.70L57.40,409.03 M99.19,460.06L91.17,449.32 M91.17,449.32L83.21,438.67 M83.21,438.67L64.00,412.99 M100.21,459.33L92.71,448.23 M92.71,448.23L85.26,437.21 M85.26,437.21L77.87,426.28 M77.00,426.87A66.30,66.30 0 0 1 78.74,425.69 M77.00,426.87L65.57,410.53 M78.74,425.69L64.15,403.37 M101.99,458.23L95.38,446.57 M95.38,446.57L88.83,435.00 M88.83,435.00L82.32,423.51 M80.51,424.58A66.30,66.30 0 0 1 84.16,422.51 M80.51,424.58L70.86,408.73 M82.32,423.51L71.28,404.03 M84.16,422.51L74.02,403.21 M103.47,457.45L97.61,445.40 M97.61,445.40L76.34,401.60 M105.54,456.55A26.40,26.40 0 0 1 111.78,455.00 M105.54,456.55L100.74,444.04 M100.74,444.04L95.97,431.63 M95.97,431.63L91.24,419.30 M88.03,420.63A66.30,66.30 0 0 1 94.51,418.14 M88.03,420.63L76.84,395.49 M90.16,419.73L79.99,394.54 M92.32,418.90L84.01,396.07 M94.51,418.14L86.65,393.94 M108.17,455.70L104.70,442.76 M104.70,442.76L101.26,429.91 M101.26,429.91L97.84,417.16 M96.73,417.47A66.30,66.30 0 0 1 98.96,416.87 M96.73,417.47L93.03,404.59 M93.03,404.59L89.49,392.23 M98.96,416.87L92.29,390.13 M109.51,455.38L106.73,442.27 M106.73,442.27L103.96,429.26 M103.96,429.26L101.22,416.35 M101.22,416.35L95.88,391.26 M111.78,455.00L110.15,441.70 M110.15,441.70L108.53,428.50 M106.69,428.75A53.10,53.10 0 0 1 110.37,428.30 M106.69,428.75L104.63,415.72 M103.49,415.91A66.30,66.30 0 0 1 105.77,415.55 M103.49,415.91L99.73,394.62 M105.77,415.55L102.95,395.49 M110.37,428.30L109.22,415.15 M108.07,415.26A66.30,66.30 0 0 1 110.38,415.06 M108.07,415.26L106.67,401.94 M106.67,401.94L105.83,393.96 M110.38,415.06L108.73,391.56 M115.92,454.82A26.40,26.40 0 0 1 120.77,455.44 M115.92,454.82L116.39,441.42 M116.39,441.42L116.85,428.13 M116.85,428.13L117.31,414.94 M112.98,414.93A66.30,66.30 0 0 1 121.64,415.23 M112.98,414.93L112.44,397.31 M115.87,414.91L116.14,394.38 M118.76,415.01L119.88,395.19 M121.64,415.23L123.69,394.88 M118.79,455.07L120.71,441.81 M120.71,441.81L128.58,387.54 M120.77,455.44L123.70,442.36 M123.70,442.36L126.61,429.38 M124.90,429.03A53.10,53.10 0 0 1 128.30,429.79 M124.90,429.03L132.63,388.35 M128.30,429.79L131.60,417.01 M130.20,416.66A66.30,66.30 0 0 1 133.00,417.39 M130.20,416.66L135.07,395.97 M133.00,417.39L136.63,404.49 M136.63,404.49L140.79,389.77 M123.10,456.07A26.40,26.40 0 0 1 127.90,458.17 M123.10,456.07L127.22,443.32 M127.22,443.32L142.02,397.43 M124.81,456.69L129.79,444.25 M128.94,443.92A39.80,39.80 0 0 1 130.63,444.60 M128.94,443.92L133.60,431.46 M133.60,431.46L138.22,419.10 M137.27,418.75A66.30,66.30 0 0 1 139.16,419.46 M137.27,418.75L145.86,394.65 M139.16,419.46L146.60,400.47 M130.63,444.60L151.25,396.32 M126.47,457.42L132.29,445.35 M132.29,445.35L138.07,433.37 M138.07,433.37L143.80,421.48 M142.89,421.05A66.30,66.30 0 0 1 144.71,421.93 M142.89,421.05L148.53,408.89 M148.53,408.89L150.57,404.49 M144.71,421.93L150.72,409.95 M150.72,409.95L157.57,396.27 M127.90,458.17L134.45,446.47 M134.45,446.47L140.95,434.87 M140.95,434.87L147.40,423.35 M146.51,422.87A66.30,66.30 0 0 1 148.28,423.85 M146.51,422.87L158.87,399.98 M148.28,423.85L161.63,400.84 M120.92,492.33A12.60,12.60 0 1 1 124.36,472.77 M119.94,492.79L125.36,505.48 M105.49,489.47L95.08,498.52 M102.40,480.98L88.60,480.74 M103.37,476.36L90.63,471.05 M107.07,471.41L98.39,460.68 M111.95,468.97L108.61,455.58 M116.69,468.71L118.54,455.04 M120.12,469.69L125.74,457.08 M122.72,471.24A12.60,12.60 0 0 1 127.52,479.75 M122.72,471.24L131.17,460.33 M129.20,458.95A26.40,26.40 0 0 1 133.00,461.89 M129.20,458.95L136.41,447.65 M136.41,447.65L143.57,436.44 M143.57,436.44L150.67,425.31 M149.91,424.84A66.30,66.30 0 0 1 151.42,425.80 M149.91,424.84L159.53,409.30 M151.42,425.80L163.82,406.94 M130.09,459.54L137.75,448.54 M137.75,448.54L166.68,407.02 M130.67,459.95L138.62,449.17 M138.62,449.17L146.52,438.47 M146.52,438.47L162.38,416.96 M133.00,461.89L142.13,452.08 M139.90,450.15A39.80,39.80 0 0 1 144.22,454.17 M139.90,450.15L148.22,439.77 M148.22,439.77L156.48,429.48 M155.78,428.92A66.30,66.30 0 0 1 157.17,430.04 M155.78,428.92L170.10,410.57 M157.17,430.04L172.70,411.21 M141.54,451.54L150.41,441.63 M150.41,441.63L159.21,431.79 M158.54,431.20A66.30,66.30 0 0 1 159.87,432.39 M158.54,431.20L171.21,416.64 M159.87,432.39L177.84,412.84 M143.10,453.01L152.49,443.59 M152.49,443.59L161.81,434.24 M161.17,433.62A66.30,66.30 0 0 1 162.44,434.88 M161.17,433.62L175.48,418.87 M162.44,434.88L176.85,420.80 M144.22,454.17L163.62,436.22 M125.60,474.39L137.21,466.93 M135.54,464.62A26.40,26.40 0 0 1 138.62,469.40 M135.54,464.62L145.97,456.20 M145.28,455.38A39.80,39.80 0 0 1 146.63,457.05 M145.28,455.38L155.40,446.75 M155.40,446.75L165.45,438.18 M164.86,437.51A66.30,66.30 0 0 1 166.02,438.87 M164.86,437.51L182.27,422.26 M166.02,438.87L185.59,422.63 M146.63,457.05L157.20,448.98 M157.20,448.98L167.70,440.96 M167.15,440.26A66.30,66.30 0 0 1 168.23,441.68 M167.15,440.26L187.72,424.11 M168.23,441.68L184.72,429.44 M137.30,467.08L148.63,459.91 M148.63,459.91L159.86,452.79 M158.88,451.30A53.10,53.10 0 0 1 160.80,454.32 M158.88,451.30L169.79,443.86 M169.28,443.13A66.30,66.30 0 0 1 170.29,444.61 M169.28,443.13L186.19,431.27 M170.29,444.61L193.49,429.25 M160.80,454.32L172.18,447.64 M171.25,446.11A66.30,66.30 0 0 1 173.06,449.20 M171.25,446.11L187.18,436.18 M172.18,447.64L183.74,440.86 M183.74,440.86L188.23,438.22 M173.06,449.20L195.17,437.01 M138.62,469.40L150.60,463.41 M150.60,463.41L162.50,457.47 M162.50,457.47L174.31,451.57 M173.91,450.77A66.30,66.30 0 0 1 174.70,452.37 M173.91,450.77L196.10,439.31 M174.70,452.37L197.83,441.21 M126.94,477.18L140.02,472.77 M139.21,470.67A26.40,26.40 0 0 1 140.64,474.93 M139.21,470.67L151.50,465.33 M151.50,465.33L163.70,460.03 M163.70,460.03L175.80,454.76 M175.45,453.97A66.30,66.30 0 0 1 176.14,455.56 M175.45,453.97L200.68,442.61 M176.14,455.56L198.50,446.19 M139.61,471.63L152.09,466.77 M152.09,466.77L164.49,461.95 M164.49,461.95L203.46,446.80 M140.18,473.26L152.96,469.23 M152.63,468.24A39.80,39.80 0 0 1 153.26,470.23 M152.63,468.24L165.21,463.91 M165.21,463.91L177.69,459.61 M177.40,458.80A66.30,66.30 0 0 1 177.97,460.44 M177.40,458.80L202.20,449.89 M177.97,460.44L198.59,453.63 M153.26,470.23L166.04,466.56 M166.04,466.56L178.73,462.93 M178.49,462.09A66.30,66.30 0 0 1 178.97,463.76 M178.49,462.09L203.82,454.47 M178.97,463.76L200.18,457.98 M140.64,474.93L198.49,460.77 M127.52,479.75L154.53,476.61 M153.89,472.76A39.80,39.80 0 0 1 154.79,480.51 M153.89,472.76L166.89,469.93 M166.89,469.93L179.79,467.13 M179.79,467.13L192.89,464.29 M192.89,464.29L202.97,462.10 M153.97,473.10L166.99,470.39 M166.99,470.39L179.91,467.70 M179.91,467.70L193.03,464.97 M193.03,464.97L206.92,462.08 M154.13,473.95L167.21,471.52 M167.21,471.52L180.19,469.12 M180.03,468.27A66.30,66.30 0 0 1 180.34,469.97 M180.03,468.27L193.17,465.65 M193.17,465.65L198.44,464.60 M180.14,468.83L193.30,466.33 M193.30,466.33L205.22,464.07 M180.24,469.40L193.43,467.02 M193.43,467.02L208.48,464.30 M180.34,469.97L193.55,467.70 M193.55,467.70L206.54,465.47 M154.31,474.97L167.45,472.89 M167.45,472.89L180.48,470.83 M180.44,470.54A66.30,66.30 0 0 1 180.53,471.11 M180.44,470.54L193.66,468.39 M193.66,468.39L203.74,466.75 M180.53,471.11L193.77,469.08 M193.77,469.08L207.97,466.89 M154.41,475.66L167.58,473.81 M167.58,473.81L180.65,471.97 M180.61,471.69A66.30,66.30 0 0 1 180.69,472.26 M180.61,471.69L193.88,469.76 M193.88,469.76L209.02,467.57 M180.69,472.26L193.97,470.45 M193.97,470.45L199.21,469.74 M154.53,476.61L167.75,475.07 M167.68,474.50A53.10,53.10 0 0 1 167.81,475.65 M167.68,474.50L180.77,472.83 M180.77,472.83L194.06,471.14 M194.06,471.14L209.24,469.21 M167.81,475.65L180.94,474.27 M180.84,473.41A66.30,66.30 0 0 1 181.02,475.13 M180.84,473.41L194.15,471.83 M194.15,471.83L206.51,470.37 M180.91,473.98L194.23,472.52 M194.23,472.52L200.33,471.85 M180.97,474.56L194.30,473.22 M194.30,473.22L201.77,472.46 M181.02,475.13L194.37,473.91 M194.37,473.91L202.03,473.20 M154.68,478.08L167.94,477.03 M167.94,477.03L181.10,476.00 M181.07,475.71A66.30,66.30 0 0 1 181.12,476.29 M181.07,475.71L194.43,474.60 M194.43,474.60L208.79,473.41 M181.12,476.29L194.48,475.29 M194.48,475.29L209.74,474.16 M154.74,479.03L168.02,478.31 M167.99,477.73A53.10,53.10 0 0 1 168.05,478.88 M167.99,477.73L181.16,476.86 M181.16,476.86L194.53,475.99 M194.53,475.99L205.28,475.28 M168.05,478.88L181.24,478.31 M181.19,477.44A66.30,66.30 0 0 1 181.27,479.18 M181.19,477.44L194.57,476.68 M194.57,476.68L204.45,476.12 M181.22,478.02L194.61,477.38 M194.61,477.38L209.89,476.64 M181.25,478.60L194.64,478.07 M194.64,478.07L209.93,477.47 M181.27,479.18L194.66,478.77 M194.66,478.77L208.34,478.35 M154.79,480.51L168.09,480.27 M168.09,480.27L181.29,480.04 M181.28,479.75A66.30,66.30 0 0 1 181.29,480.33 M181.28,479.75L194.68,479.46 M194.68,479.46L209.98,479.13 M181.29,480.33L194.69,480.16 M194.69,480.16L209.99,479.96"/>
</g>
<defs><linearGradient id="bk" x1="0" x2="1" y1="0" y2="0"><stop offset="0" stop-color="#000"/><stop offset="0.45" stop-color="#222"/><stop offset="1" stop-color="#999" stop-opacity="0.6"/></linearGradient></defs>
<path d="M154.13,472.88A40.00,40.00 0 0 1 155.00,480.92L128.00,481.11A13.00,13.00 0 0 0 127.72,478.50Z" fill="url(#bk)"/>
<path d="M126.11,444.86L133.13,421.91" stroke="#38c6f0" stroke-width="1.1" fill="none"/>
<path d="M133.13,421.91L142.78,390.35" stroke="#38c6f0" stroke-width="2.3" fill="none"/>
<path d="M142.78,390.35L145.70,380.79" stroke="#8cdcf4" stroke-width="3.0" fill="none"/>
<path d="M131.94,441.68L139.42,424.21" stroke="#38c6f0" stroke-width="1.1" fill="none"/>
<path d="M139.42,424.21L150.45,398.48" stroke="#38c6f0" stroke-width="2.8" fill="none"/>
<path d="M150.45,398.48L158.33,380.10" stroke="#90def5" stroke-width="4.0" fill="none"/>
<path d="M136.25,449.70L149.67,429.80" stroke="#38c6f0" stroke-width="1.1" fill="none"/>
<path d="M149.67,429.80L169.24,400.78" stroke="#38c6f0" stroke-width="2.3" fill="none"/>
<path d="M169.24,400.78L175.39,391.66" stroke="#90def5" stroke-width="3.2" fill="none"/>
<path d="M140.44,450.34L184.97,396.32" stroke="#22c0ee" stroke-width="1.3" fill="none"/>
<path d="M153.97,458.70L168.69,450.20" stroke="#19b8e8" stroke-width="1.1" fill="none"/>
<path d="M168.69,450.20L201.60,431.20" stroke="#19b8e8" stroke-width="3.4" fill="none"/>
<path d="M201.60,431.20L213.73,424.20" stroke="#5cc9e6" stroke-width="4.4" fill="none"/>
<path d="M143.64,469.34L203.69,444.46" stroke="#22c0ee" stroke-width="1.0" fill="none"/>
<path d="M153.93,472.00L204.53,460.04" stroke="#22c0ee" stroke-width="1.2" fill="none"/>
<path d="M144.78,477.54L215.25,468.89" stroke="#22c0ee" stroke-width="1.3" fill="none"/>
<path d="M141.96,479.79L215.86,475.91" stroke="#22c0ee" stroke-width="1.5" fill="none"/>
<path d="M115.00,445.20L115.00,395.20" stroke="#22c0ee" stroke-width="1.6" fill="none"/>
<path d="M115.00,395.20L115.00,388.20" stroke="#4a9fb8" stroke-width="3.0" fill="none"/>
<path d="M100.39,445.04L79.04,392.19" stroke="#1aa0c8" stroke-width="1.3" fill="none"/>
<path d="M102.63,444.22L84.54,390.16" stroke="#1aa0c8" stroke-width="1.1" fill="none"/>
<path d="M82.20,443.46L55.95,413.28" stroke="#22c0ee" stroke-width="0.9" fill="none"/>
<path d="M65.27,466.00L21.28,452.55" stroke="#2aa6c2" stroke-width="1.3" fill="none"/>
<path d="M66.45,462.56L23.51,446.08" stroke="#2aa6c2" stroke-width="1.3" fill="none"/>
<path d="M78.00,481.59L23.01,482.16" stroke="#2aa6c2" stroke-width="1.0" fill="none"/>
<path d="M149.17,510.48L162.07,521.55" stroke="#22c0ee" stroke-width="1.1" fill="none"/>
<path d="M162.07,521.55L177.26,534.56" stroke="#22c0ee" stroke-width="2.2" fill="none"/>
<path d="M177.26,534.56L195.48,550.18" stroke="#7fd6f2" stroke-width="4.0" fill="none"/>
<path d="M116.40,521.18L118.32,576.14" stroke="#22c0ee" stroke-width="1.4" fill="none"/>
<path d="M118.32,576.14L118.73,588.13" stroke="#7fd6f2" stroke-width="1.8" fill="none"/>
<path d="M101.07,552.86L101.07,552.86" stroke="#8fd8ef" stroke-width="1.1" fill="none"/>
<path d="M101.07,552.86L98.21,567.58" stroke="#8fd8ef" stroke-width="2.0" fill="none"/>
<path d="M151.15,549.19L160.07,565.96" stroke="#8fd8ef" stroke-width="0.9" fill="none"/>
<path d="M77.24,434.57L55.84,408.15" stroke="#ee2a30" stroke-width="0.7" fill="none"/>
<path d="M84.91,521.13L77.69,530.72" stroke="#ee2a30" stroke-width="1.1" fill="none"/>
<path d="M77.69,530.72L66.85,545.09" stroke="#ee2a30" stroke-width="1.8" fill="none"/>
<path d="M66.85,545.09L51.21,565.86" stroke="#f48888" stroke-width="4.5" fill="none"/>
<path d="M85.00,533.16L84.00,534.89" stroke="#ee2a30" stroke-width="1.1" fill="none"/>
<path d="M84.00,534.89L74.00,552.21" stroke="#ee2a30" stroke-width="1.8" fill="none"/>
<path d="M74.00,552.21L62.00,573.00" stroke="#f49a9a" stroke-width="4.5" fill="none"/>
<path d="M192.62,500.55L208.15,504.42" stroke="#ee2a30" stroke-width="0.6" fill="none"/>
<path d="M117.01,479.39L124.36,472.77" stroke="#7a7a7a" stroke-width="0.5"/>
<circle cx="115.0" cy="481.2" r="2.7" fill="#fff" stroke="#7a7a7a" stroke-width="0.6"/>
<circle cx="181.08" cy="486.54" r="0.8111269837220809" fill="#fff" stroke="#7a7a7a" stroke-width="0.5"/>
<circle cx="167.93" cy="485.48" r="0.8111269837220809" fill="#fff" stroke="#7a7a7a" stroke-width="0.5"/>
<circle cx="180.51" cy="491.42" r="0.8111269837220809" fill="#fff" stroke="#7a7a7a" stroke-width="0.5"/>
<circle cx="167.47" cy="489.38" r="0.8111269837220809" fill="#fff" stroke="#7a7a7a" stroke-width="0.5"/>
<circle cx="166.93" cy="492.29" r="0.72" fill="#fff" stroke="#7a7a7a" stroke-width="0.5"/>
<circle cx="166.48" cy="494.20" r="0.72" fill="#fff" stroke="#7a7a7a" stroke-width="0.5"/>
<circle cx="178.64" cy="499.80" r="0.72" fill="#fff" stroke="#7a7a7a" stroke-width="0.5"/>
<circle cx="165.97" cy="496.10" r="0.72" fill="#fff" stroke="#7a7a7a" stroke-width="0.5"/>
<circle cx="177.51" cy="503.31" r="0.8111269837220809" fill="#fff" stroke="#7a7a7a" stroke-width="0.5"/>
<circle cx="165.06" cy="498.91" r="0.8111269837220809" fill="#fff" stroke="#7a7a7a" stroke-width="0.5"/>
<circle cx="183.21" cy="522.43" r="0.72" fill="#fff" stroke="#7a7a7a" stroke-width="0.5"/>
<circle cx="172.97" cy="513.37" r="0.9919349550499538" fill="#fff" stroke="#7a7a7a" stroke-width="0.5"/>
<circle cx="161.43" cy="506.97" r="0.9919349550499538" fill="#fff" stroke="#7a7a7a" stroke-width="0.5"/>
<circle cx="158.29" cy="511.96" r="0.72" fill="#fff" stroke="#7a7a7a" stroke-width="0.5"/>
<circle cx="165.26" cy="524.43" r="0.8111269837220809" fill="#fff" stroke="#7a7a7a" stroke-width="0.5"/>
<circle cx="155.26" cy="515.83" r="0.8111269837220809" fill="#fff" stroke="#7a7a7a" stroke-width="0.5"/>
<circle cx="156.44" cy="532.95" r="0.94" fill="#fff" stroke="#7a7a7a" stroke-width="0.5"/>
<circle cx="148.19" cy="522.65" r="0.94" fill="#fff" stroke="#7a7a7a" stroke-width="0.5"/>
<circle cx="151.48" cy="536.56" r="0.72" fill="#fff" stroke="#7a7a7a" stroke-width="0.5"/>
<circle cx="148.35" cy="538.50" r="0.8111269837220809" fill="#fff" stroke="#7a7a7a" stroke-width="0.5"/>
<circle cx="142.97" cy="526.33" r="0.8810511776651531" fill="#fff" stroke="#7a7a7a" stroke-width="0.5"/>
<circle cx="145.12" cy="540.26" r="0.72" fill="#fff" stroke="#7a7a7a" stroke-width="0.5"/>
<circle cx="139.12" cy="528.51" r="0.72" fill="#fff" stroke="#7a7a7a" stroke-width="0.5"/>
<circle cx="137.35" cy="529.37" r="0.72" fill="#fff" stroke="#7a7a7a" stroke-width="0.5"/>
<circle cx="147.66" cy="503.95" r="1.9459875518136387" fill="#fff" stroke="#7a7a7a" stroke-width="0.5"/>
<circle cx="139.53" cy="542.80" r="0.8111269837220809" fill="#fff" stroke="#7a7a7a" stroke-width="0.5"/>
<circle cx="134.64" cy="530.53" r="0.8111269837220809" fill="#fff" stroke="#7a7a7a" stroke-width="0.5"/>
<circle cx="134.90" cy="544.44" r="0.8111269837220809" fill="#fff" stroke="#7a7a7a" stroke-width="0.5"/>
<circle cx="130.94" cy="531.85" r="0.8111269837220809" fill="#fff" stroke="#7a7a7a" stroke-width="0.5"/>
<circle cx="130.16" cy="545.74" r="0.8111269837220809" fill="#fff" stroke="#7a7a7a" stroke-width="0.5"/>
<circle cx="127.15" cy="532.89" r="0.8111269837220809" fill="#fff" stroke="#7a7a7a" stroke-width="0.5"/>
<circle cx="126.95" cy="519.16" r="1.146665292094759" fill="#fff" stroke="#7a7a7a" stroke-width="0.5"/>
<circle cx="128.89" cy="559.68" r="0.72" fill="#fff" stroke="#7a7a7a" stroke-width="0.5"/>
<circle cx="125.35" cy="546.69" r="0.8111269837220809" fill="#fff" stroke="#7a7a7a" stroke-width="0.5"/>
<circle cx="123.29" cy="533.65" r="0.8111269837220809" fill="#fff" stroke="#7a7a7a" stroke-width="0.5"/>
<circle cx="111.25" cy="560.81" r="0.72" fill="#fff" stroke="#7a7a7a" stroke-width="0.5"/>
<circle cx="114.34" cy="547.50" r="0.9919349550499538" fill="#fff" stroke="#7a7a7a" stroke-width="0.5"/>
<circle cx="114.47" cy="534.30" r="0.9919349550499538" fill="#fff" stroke="#7a7a7a" stroke-width="0.5"/>
<circle cx="105.37" cy="560.32" r="0.72" fill="#fff" stroke="#7a7a7a" stroke-width="0.5"/>
<circle cx="106.99" cy="547.01" r="0.72" fill="#fff" stroke="#7a7a7a" stroke-width="0.5"/>
<circle cx="108.58" cy="533.91" r="0.72" fill="#fff" stroke="#7a7a7a" stroke-width="0.5"/>
<circle cx="115.71" cy="520.99" r="1.292" fill="#fff" stroke="#7a7a7a" stroke-width="0.5"/>
<circle cx="125.36" cy="505.48" r="2.2709658381798334" fill="#fff" stroke="#7a7a7a" stroke-width="0.5"/>
<circle cx="99.23" cy="545.60" r="0.8810511776651531" fill="#fff" stroke="#7a7a7a" stroke-width="0.5"/>
<circle cx="94.11" cy="544.12" r="0.72" fill="#fff" stroke="#7a7a7a" stroke-width="0.5"/>
<circle cx="100.31" cy="532.23" r="0.94" fill="#fff" stroke="#7a7a7a" stroke-width="0.5"/>
<circle cx="90.36" cy="542.75" r="0.8111269837220809" fill="#fff" stroke="#7a7a7a" stroke-width="0.5"/>
<circle cx="83.13" cy="539.34" r="0.8111269837220809" fill="#fff" stroke="#7a7a7a" stroke-width="0.5"/>
<circle cx="92.33" cy="529.22" r="0.9919349550499538" fill="#fff" stroke="#7a7a7a" stroke-width="0.5"/>
<circle cx="78.57" cy="536.59" r="0.8111269837220809" fill="#fff" stroke="#7a7a7a" stroke-width="0.5"/>
<circle cx="85.82" cy="525.56" r="0.8111269837220809" fill="#fff" stroke="#7a7a7a" stroke-width="0.5"/>
<circle cx="74.24" cy="533.49" r="0.8111269837220809" fill="#fff" stroke="#7a7a7a" stroke-width="0.5"/>
<circle cx="82.35" cy="523.08" r="0.8111269837220809" fill="#fff" stroke="#7a7a7a" stroke-width="0.5"/>
<circle cx="79.89" cy="521.03" r="0.72" fill="#fff" stroke="#7a7a7a" stroke-width="0.5"/>
<circle cx="66.39" cy="526.29" r="0.8111269837220809" fill="#fff" stroke="#7a7a7a" stroke-width="0.5"/>
<circle cx="76.07" cy="517.31" r="0.8111269837220809" fill="#fff" stroke="#7a7a7a" stroke-width="0.5"/>
<circle cx="62.93" cy="522.24" r="0.8111269837220809" fill="#fff" stroke="#7a7a7a" stroke-width="0.5"/>
<circle cx="59.80" cy="517.92" r="0.8111269837220809" fill="#fff" stroke="#7a7a7a" stroke-width="0.5"/>
<circle cx="72.01" cy="512.37" r="0.94" fill="#fff" stroke="#7a7a7a" stroke-width="0.5"/>
<circle cx="56.39" cy="512.20" r="0.8810511776651531" fill="#fff" stroke="#7a7a7a" stroke-width="0.5"/>
<circle cx="68.06" cy="506.03" r="0.8810511776651531" fill="#fff" stroke="#7a7a7a" stroke-width="0.5"/>
<circle cx="89.90" cy="512.09" r="1.793330584189518" fill="#fff" stroke="#7a7a7a" stroke-width="0.5"/>
<circle cx="39.49" cy="506.71" r="0.72" fill="#fff" stroke="#7a7a7a" stroke-width="0.5"/>
<circle cx="38.53" cy="503.65" r="0.72" fill="#fff" stroke="#7a7a7a" stroke-width="0.5"/>
<circle cx="52.63" cy="503.68" r="0.94" fill="#fff" stroke="#7a7a7a" stroke-width="0.5"/>
<circle cx="65.04" cy="499.20" r="0.94" fill="#fff" stroke="#7a7a7a" stroke-width="0.5"/>
<circle cx="36.97" cy="497.44" r="0.72" fill="#fff" stroke="#7a7a7a" stroke-width="0.5"/>
<circle cx="50.38" cy="496.01" r="0.8111269837220809" fill="#fff" stroke="#7a7a7a" stroke-width="0.5"/>
<circle cx="63.24" cy="493.06" r="0.8111269837220809" fill="#fff" stroke="#7a7a7a" stroke-width="0.5"/>
<circle cx="35.92" cy="491.12" r="0.72" fill="#fff" stroke="#7a7a7a" stroke-width="0.5"/>
<circle cx="49.39" cy="490.77" r="0.8111269837220809" fill="#fff" stroke="#7a7a7a" stroke-width="0.5"/>
<circle cx="62.46" cy="488.87" r="0.8111269837220809" fill="#fff" stroke="#7a7a7a" stroke-width="0.5"/>
<circle cx="76.39" cy="490.87" r="1.2467047609329942" fill="#fff" stroke="#7a7a7a" stroke-width="0.5"/>
<circle cx="95.08" cy="498.52" r="2.0165645386860396" fill="#fff" stroke="#7a7a7a" stroke-width="0.5"/>
<circle cx="35.31" cy="482.59" r="0.72" fill="#fff" stroke="#7a7a7a" stroke-width="0.5"/>
<circle cx="48.74" cy="483.51" r="0.8111269837220809" fill="#fff" stroke="#7a7a7a" stroke-width="0.5"/>
<circle cx="62.00" cy="484.44" r="0.8810511776651531" fill="#fff" stroke="#7a7a7a" stroke-width="0.5"/>
<circle cx="75.27" cy="483.63" r="0.9572614131981836" fill="#fff" stroke="#7a7a7a" stroke-width="0.5"/>
<circle cx="35.41" cy="477.03" r="0.72" fill="#fff" stroke="#7a7a7a" stroke-width="0.5"/>
<circle cx="48.86" cy="476.58" r="0.8111269837220809" fill="#fff" stroke="#7a7a7a" stroke-width="0.5"/>
<circle cx="62.03" cy="477.50" r="0.8111269837220809" fill="#fff" stroke="#7a7a7a" stroke-width="0.5"/>
<circle cx="75.24" cy="479.46" r="0.9572614131981836" fill="#fff" stroke="#7a7a7a" stroke-width="0.5"/>
<circle cx="49.35" cy="471.97" r="0.8111269837220809" fill="#fff" stroke="#7a7a7a" stroke-width="0.5"/>
<circle cx="62.42" cy="473.81" r="0.8111269837220809" fill="#fff" stroke="#7a7a7a" stroke-width="0.5"/>
<circle cx="75.59" cy="475.66" r="0.8733523804664971" fill="#fff" stroke="#7a7a7a" stroke-width="0.5"/>
<circle cx="88.60" cy="480.74" r="1.2467047609329942" fill="#fff" stroke="#7a7a7a" stroke-width="0.5"/>
<circle cx="50.11" cy="467.58" r="0.8111269837220809" fill="#fff" stroke="#7a7a7a" stroke-width="0.5"/>
<circle cx="63.03" cy="470.29" r="0.8111269837220809" fill="#fff" stroke="#7a7a7a" stroke-width="0.5"/>
<circle cx="63.62" cy="467.78" r="0.72" fill="#fff" stroke="#7a7a7a" stroke-width="0.5"/>
<circle cx="76.26" cy="472.08" r="0.9572614131981836" fill="#fff" stroke="#7a7a7a" stroke-width="0.5"/>
<circle cx="39.36" cy="456.10" r="0.72" fill="#fff" stroke="#7a7a7a" stroke-width="0.5"/>
<circle cx="51.74" cy="461.34" r="0.8111269837220809" fill="#fff" stroke="#7a7a7a" stroke-width="0.5"/>
<circle cx="64.34" cy="465.30" r="0.8111269837220809" fill="#fff" stroke="#7a7a7a" stroke-width="0.5"/>
<circle cx="77.03" cy="469.28" r="0.8733523804664971" fill="#fff" stroke="#7a7a7a" stroke-width="0.5"/>
<circle cx="41.14" cy="451.25" r="0.72" fill="#fff" stroke="#7a7a7a" stroke-width="0.5"/>
<circle cx="53.16" cy="457.29" r="0.8111269837220809" fill="#fff" stroke="#7a7a7a" stroke-width="0.5"/>
<circle cx="65.47" cy="462.05" r="0.8111269837220809" fill="#fff" stroke="#7a7a7a" stroke-width="0.5"/>
<circle cx="54.84" cy="453.33" r="0.8111269837220809" fill="#fff" stroke="#7a7a7a" stroke-width="0.5"/>
<circle cx="66.82" cy="458.88" r="0.8111269837220809" fill="#fff" stroke="#7a7a7a" stroke-width="0.5"/>
<circle cx="78.36" cy="465.65" r="1.028" fill="#fff" stroke="#7a7a7a" stroke-width="0.5"/>
<circle cx="56.77" cy="449.49" r="0.8111269837220809" fill="#fff" stroke="#7a7a7a" stroke-width="0.5"/>
<circle cx="68.37" cy="455.80" r="0.8111269837220809" fill="#fff" stroke="#7a7a7a" stroke-width="0.5"/>
<circle cx="80.05" cy="462.17" r="0.8733523804664971" fill="#fff" stroke="#7a7a7a" stroke-width="0.5"/>
<circle cx="60.13" cy="443.99" r="0.8111269837220809" fill="#fff" stroke="#7a7a7a" stroke-width="0.5"/>
<circle cx="70.34" cy="452.47" r="0.8810511776651531" fill="#fff" stroke="#7a7a7a" stroke-width="0.5"/>
<circle cx="81.53" cy="459.67" r="0.9572614131981836" fill="#fff" stroke="#7a7a7a" stroke-width="0.5"/>
<circle cx="90.63" cy="471.05" r="1.4877975501083205" fill="#fff" stroke="#7a7a7a" stroke-width="0.5"/>
<circle cx="51.27" cy="433.34" r="0.72" fill="#fff" stroke="#7a7a7a" stroke-width="0.5"/>
<circle cx="63.93" cy="438.92" r="0.94" fill="#fff" stroke="#7a7a7a" stroke-width="0.5"/>
<circle cx="74.10" cy="447.33" r="0.94" fill="#fff" stroke="#7a7a7a" stroke-width="0.5"/>
<circle cx="84.34" cy="455.82" r="1.028" fill="#fff" stroke="#7a7a7a" stroke-width="0.5"/>
<circle cx="69.68" cy="432.81" r="0.94" fill="#fff" stroke="#7a7a7a" stroke-width="0.5"/>
<circle cx="80.26" cy="441.04" r="0.9919349550499538" fill="#fff" stroke="#7a7a7a" stroke-width="0.5"/>
<circle cx="88.96" cy="451.10" r="1.0903219460599445" fill="#fff" stroke="#7a7a7a" stroke-width="0.5"/>
<circle cx="83.21" cy="438.67" r="0.72" fill="#fff" stroke="#7a7a7a" stroke-width="0.5"/>
<circle cx="91.17" cy="449.32" r="0.764" fill="#fff" stroke="#7a7a7a" stroke-width="0.5"/>
<circle cx="77.87" cy="426.28" r="0.8111269837220809" fill="#fff" stroke="#7a7a7a" stroke-width="0.5"/>
<circle cx="85.26" cy="437.21" r="0.8111269837220809" fill="#fff" stroke="#7a7a7a" stroke-width="0.5"/>
<circle cx="92.71" cy="448.23" r="0.8733523804664971" fill="#fff" stroke="#7a7a7a" stroke-width="0.5"/>
<circle cx="82.32" cy="423.51" r="0.8810511776651531" fill="#fff" stroke="#7a7a7a" stroke-width="0.5"/>
<circle cx="88.83" cy="435.00" r="0.8810511776651531" fill="#fff" stroke="#7a7a7a" stroke-width="0.5"/>
<circle cx="95.38" cy="446.57" r="0.9572614131981836" fill="#fff" stroke="#7a7a7a" stroke-width="0.5"/>
<circle cx="97.61" cy="445.40" r="0.764" fill="#fff" stroke="#7a7a7a" stroke-width="0.5"/>
<circle cx="98.39" cy="460.68" r="1.556" fill="#fff" stroke="#7a7a7a" stroke-width="0.5"/>
<circle cx="91.24" cy="419.30" r="0.94" fill="#fff" stroke="#7a7a7a" stroke-width="0.5"/>
<circle cx="95.97" cy="431.63" r="0.94" fill="#fff" stroke="#7a7a7a" stroke-width="0.5"/>
<circle cx="100.74" cy="444.04" r="1.028" fill="#fff" stroke="#7a7a7a" stroke-width="0.5"/>
<circle cx="93.03" cy="404.59" r="0.72" fill="#fff" stroke="#7a7a7a" stroke-width="0.5"/>
<circle cx="97.84" cy="417.16" r="0.8111269837220809" fill="#fff" stroke="#7a7a7a" stroke-width="0.5"/>
<circle cx="101.26" cy="429.91" r="0.8111269837220809" fill="#fff" stroke="#7a7a7a" stroke-width="0.5"/>
<circle cx="104.70" cy="442.76" r="0.8733523804664971" fill="#fff" stroke="#7a7a7a" stroke-width="0.5"/>
<circle cx="101.22" cy="416.35" r="0.72" fill="#fff" stroke="#7a7a7a" stroke-width="0.5"/>
<circle cx="103.96" cy="429.26" r="0.72" fill="#fff" stroke="#7a7a7a" stroke-width="0.5"/>
<circle cx="106.73" cy="442.27" r="0.764" fill="#fff" stroke="#7a7a7a" stroke-width="0.5"/>
<circle cx="104.63" cy="415.72" r="0.8111269837220809" fill="#fff" stroke="#7a7a7a" stroke-width="0.5"/>
<circle cx="106.67" cy="401.94" r="0.72" fill="#fff" stroke="#7a7a7a" stroke-width="0.5"/>
<circle cx="109.22" cy="415.15" r="0.8111269837220809" fill="#fff" stroke="#7a7a7a" stroke-width="0.5"/>
<circle cx="108.53" cy="428.50" r="0.94" fill="#fff" stroke="#7a7a7a" stroke-width="0.5"/>
<circle cx="110.15" cy="441.70" r="1.028" fill="#fff" stroke="#7a7a7a" stroke-width="0.5"/>
<circle cx="108.61" cy="455.58" r="1.3755889446538254" fill="#fff" stroke="#7a7a7a" stroke-width="0.5"/>
<circle cx="117.31" cy="414.94" r="0.94" fill="#fff" stroke="#7a7a7a" stroke-width="0.5"/>
<circle cx="116.85" cy="428.13" r="0.94" fill="#fff" stroke="#7a7a7a" stroke-width="0.5"/>
<circle cx="116.39" cy="441.42" r="1.028" fill="#fff" stroke="#7a7a7a" stroke-width="0.5"/>
<circle cx="120.71" cy="441.81" r="0.764" fill="#fff" stroke="#7a7a7a" stroke-width="0.5"/>
<circle cx="136.63" cy="404.49" r="0.72" fill="#fff" stroke="#7a7a7a" stroke-width="0.5"/>
<circle cx="131.60" cy="417.01" r="0.8111269837220809" fill="#fff" stroke="#7a7a7a" stroke-width="0.5"/>
<circle cx="126.61" cy="429.38" r="0.8810511776651531" fill="#fff" stroke="#7a7a7a" stroke-width="0.5"/>
<circle cx="123.70" cy="442.36" r="0.9572614131981836" fill="#fff" stroke="#7a7a7a" stroke-width="0.5"/>
<circle cx="118.54" cy="455.04" r="1.2467047609329942" fill="#fff" stroke="#7a7a7a" stroke-width="0.5"/>
<circle cx="127.22" cy="443.32" r="0.764" fill="#fff" stroke="#7a7a7a" stroke-width="0.5"/>
<circle cx="138.22" cy="419.10" r="0.8111269837220809" fill="#fff" stroke="#7a7a7a" stroke-width="0.5"/>
<circle cx="133.60" cy="431.46" r="0.8111269837220809" fill="#fff" stroke="#7a7a7a" stroke-width="0.5"/>
<circle cx="129.79" cy="444.25" r="0.9572614131981836" fill="#fff" stroke="#7a7a7a" stroke-width="0.5"/>
<circle cx="148.53" cy="408.89" r="0.72" fill="#fff" stroke="#7a7a7a" stroke-width="0.5"/>
<circle cx="150.72" cy="409.95" r="0.72" fill="#fff" stroke="#7a7a7a" stroke-width="0.5"/>
<circle cx="143.80" cy="421.48" r="0.8111269837220809" fill="#fff" stroke="#7a7a7a" stroke-width="0.5"/>
<circle cx="138.07" cy="433.37" r="0.8111269837220809" fill="#fff" stroke="#7a7a7a" stroke-width="0.5"/>
<circle cx="132.29" cy="445.35" r="0.8733523804664971" fill="#fff" stroke="#7a7a7a" stroke-width="0.5"/>
<circle cx="147.40" cy="423.35" r="0.8111269837220809" fill="#fff" stroke="#7a7a7a" stroke-width="0.5"/>
<circle cx="140.95" cy="434.87" r="0.8111269837220809" fill="#fff" stroke="#7a7a7a" stroke-width="0.5"/>
<circle cx="134.45" cy="446.47" r="0.8733523804664971" fill="#fff" stroke="#7a7a7a" stroke-width="0.5"/>
<circle cx="125.74" cy="457.08" r="1.2467047609329942" fill="#fff" stroke="#7a7a7a" stroke-width="0.5"/>
<circle cx="150.67" cy="425.31" r="0.8111269837220809" fill="#fff" stroke="#7a7a7a" stroke-width="0.5"/>
<circle cx="143.57" cy="436.44" r="0.8111269837220809" fill="#fff" stroke="#7a7a7a" stroke-width="0.5"/>
<circle cx="136.41" cy="447.65" r="0.8733523804664971" fill="#fff" stroke="#7a7a7a" stroke-width="0.5"/>
<circle cx="137.75" cy="448.54" r="0.764" fill="#fff" stroke="#7a7a7a" stroke-width="0.5"/>
<circle cx="146.52" cy="438.47" r="0.72" fill="#fff" stroke="#7a7a7a" stroke-width="0.5"/>
<circle cx="138.62" cy="449.17" r="0.764" fill="#fff" stroke="#7a7a7a" stroke-width="0.5"/>
<circle cx="156.48" cy="429.48" r="0.8111269837220809" fill="#fff" stroke="#7a7a7a" stroke-width="0.5"/>
<circle cx="148.22" cy="439.77" r="0.8111269837220809" fill="#fff" stroke="#7a7a7a" stroke-width="0.5"/>
<circle cx="159.21" cy="431.79" r="0.8111269837220809" fill="#fff" stroke="#7a7a7a" stroke-width="0.5"/>
<circle cx="150.41" cy="441.63" r="0.8111269837220809" fill="#fff" stroke="#7a7a7a" stroke-width="0.5"/>
<circle cx="161.81" cy="434.24" r="0.8111269837220809" fill="#fff" stroke="#7a7a7a" stroke-width="0.5"/>
<circle cx="152.49" cy="443.59" r="0.8111269837220809" fill="#fff" stroke="#7a7a7a" stroke-width="0.5"/>
<circle cx="142.13" cy="452.08" r="1.198478346121052" fill="#fff" stroke="#7a7a7a" stroke-width="0.5"/>
<circle cx="131.17" cy="460.33" r="1.3755889446538254" fill="#fff" stroke="#7a7a7a" stroke-width="0.5"/>
<circle cx="165.45" cy="438.18" r="0.8111269837220809" fill="#fff" stroke="#7a7a7a" stroke-width="0.5"/>
<circle cx="155.40" cy="446.75" r="0.8111269837220809" fill="#fff" stroke="#7a7a7a" stroke-width="0.5"/>
<circle cx="167.70" cy="440.96" r="0.8111269837220809" fill="#fff" stroke="#7a7a7a" stroke-width="0.5"/>
<circle cx="157.20" cy="448.98" r="0.8111269837220809" fill="#fff" stroke="#7a7a7a" stroke-width="0.5"/>
<circle cx="145.97" cy="456.20" r="1.028" fill="#fff" stroke="#7a7a7a" stroke-width="0.5"/>
<circle cx="169.79" cy="443.86" r="0.8111269837220809" fill="#fff" stroke="#7a7a7a" stroke-width="0.5"/>
<circle cx="183.74" cy="440.86" r="0.72" fill="#fff" stroke="#7a7a7a" stroke-width="0.5"/>
<circle cx="172.18" cy="447.64" r="0.8810511776651531" fill="#fff" stroke="#7a7a7a" stroke-width="0.5"/>
<circle cx="159.86" cy="452.79" r="0.9919349550499538" fill="#fff" stroke="#7a7a7a" stroke-width="0.5"/>
<circle cx="148.63" cy="459.91" r="1.0903219460599445" fill="#fff" stroke="#7a7a7a" stroke-width="0.5"/>
<circle cx="174.31" cy="451.57" r="0.8111269837220809" fill="#fff" stroke="#7a7a7a" stroke-width="0.5"/>
<circle cx="162.50" cy="457.47" r="0.8111269837220809" fill="#fff" stroke="#7a7a7a" stroke-width="0.5"/>
<circle cx="150.60" cy="463.41" r="0.8733523804664971" fill="#fff" stroke="#7a7a7a" stroke-width="0.5"/>
<circle cx="137.21" cy="466.93" r="1.3755889446538254" fill="#fff" stroke="#7a7a7a" stroke-width="0.5"/>
<circle cx="175.80" cy="454.76" r="0.8111269837220809" fill="#fff" stroke="#7a7a7a" stroke-width="0.5"/>
<circle cx="163.70" cy="460.03" r="0.8111269837220809" fill="#fff" stroke="#7a7a7a" stroke-width="0.5"/>
<circle cx="151.50" cy="465.33" r="0.8733523804664971" fill="#fff" stroke="#7a7a7a" stroke-width="0.5"/>
<circle cx="164.49" cy="461.95" r="0.72" fill="#fff" stroke="#7a7a7a" stroke-width="0.5"/>
<circle cx="152.09" cy="466.77" r="0.764" fill="#fff" stroke="#7a7a7a" stroke-width="0.5"/>
<circle cx="177.69" cy="459.61" r="0.8111269837220809" fill="#fff" stroke="#7a7a7a" stroke-width="0.5"/>
<circle cx="165.21" cy="463.91" r="0.8111269837220809" fill="#fff" stroke="#7a7a7a" stroke-width="0.5"/>
<circle cx="178.73" cy="462.93" r="0.8111269837220809" fill="#fff" stroke="#7a7a7a" stroke-width="0.5"/>
<circle cx="166.04" cy="466.56" r="0.8111269837220809" fill="#fff" stroke="#7a7a7a" stroke-width="0.5"/>
<circle cx="152.96" cy="469.23" r="1.028" fill="#fff" stroke="#7a7a7a" stroke-width="0.5"/>
<circle cx="140.02" cy="472.77" r="1.2467047609329942" fill="#fff" stroke="#7a7a7a" stroke-width="0.5"/>
<circle cx="192.89" cy="464.29" r="0.72" fill="#fff" stroke="#7a7a7a" stroke-width="0.5"/>
<circle cx="179.79" cy="467.13" r="0.72" fill="#fff" stroke="#7a7a7a" stroke-width="0.5"/>
<circle cx="166.89" cy="469.93" r="0.72" fill="#fff" stroke="#7a7a7a" stroke-width="0.5"/>
<circle cx="193.03" cy="464.97" r="0.72" fill="#fff" stroke="#7a7a7a" stroke-width="0.5"/>
<circle cx="179.91" cy="467.70" r="0.72" fill="#fff" stroke="#7a7a7a" stroke-width="0.5"/>
<circle cx="166.99" cy="470.39" r="0.72" fill="#fff" stroke="#7a7a7a" stroke-width="0.5"/>
<circle cx="193.17" cy="465.65" r="0.72" fill="#fff" stroke="#7a7a7a" stroke-width="0.5"/>
<circle cx="193.30" cy="466.33" r="0.72" fill="#fff" stroke="#7a7a7a" stroke-width="0.5"/>
<circle cx="193.43" cy="467.02" r="0.72" fill="#fff" stroke="#7a7a7a" stroke-width="0.5"/>
<circle cx="193.55" cy="467.70" r="0.72" fill="#fff" stroke="#7a7a7a" stroke-width="0.5"/>
<circle cx="180.19" cy="469.12" r="0.94" fill="#fff" stroke="#7a7a7a" stroke-width="0.5"/>
<circle cx="167.21" cy="471.52" r="0.94" fill="#fff" stroke="#7a7a7a" stroke-width="0.5"/>
<circle cx="193.66" cy="468.39" r="0.72" fill="#fff" stroke="#7a7a7a" stroke-width="0.5"/>
<circle cx="193.77" cy="469.08" r="0.72" fill="#fff" stroke="#7a7a7a" stroke-width="0.5"/>
<circle cx="180.48" cy="470.83" r="0.8111269837220809" fill="#fff" stroke="#7a7a7a" stroke-width="0.5"/>
<circle cx="167.45" cy="472.89" r="0.8111269837220809" fill="#fff" stroke="#7a7a7a" stroke-width="0.5"/>
<circle cx="193.88" cy="469.76" r="0.72" fill="#fff" stroke="#7a7a7a" stroke-width="0.5"/>
<circle cx="193.97" cy="470.45" r="0.72" fill="#fff" stroke="#7a7a7a" stroke-width="0.5"/>
<circle cx="180.65" cy="471.97" r="0.8111269837220809" fill="#fff" stroke="#7a7a7a" stroke-width="0.5"/>
<circle cx="167.58" cy="473.81" r="0.8111269837220809" fill="#fff" stroke="#7a7a7a" stroke-width="0.5"/>
<circle cx="194.06" cy="471.14" r="0.72" fill="#fff" stroke="#7a7a7a" stroke-width="0.5"/>
<circle cx="180.77" cy="472.83" r="0.72" fill="#fff" stroke="#7a7a7a" stroke-width="0.5"/>
<circle cx="194.15" cy="471.83" r="0.72" fill="#fff" stroke="#7a7a7a" stroke-width="0.5"/>
<circle cx="194.23" cy="472.52" r="0.72" fill="#fff" stroke="#7a7a7a" stroke-width="0.5"/>
<circle cx="194.30" cy="473.22" r="0.72" fill="#fff" stroke="#7a7a7a" stroke-width="0.5"/>
<circle cx="194.37" cy="473.91" r="0.72" fill="#fff" stroke="#7a7a7a" stroke-width="0.5"/>
<circle cx="180.94" cy="474.27" r="0.94" fill="#fff" stroke="#7a7a7a" stroke-width="0.5"/>
<circle cx="167.75" cy="475.07" r="0.9919349550499538" fill="#fff" stroke="#7a7a7a" stroke-width="0.5"/>
<circle cx="194.43" cy="474.60" r="0.72" fill="#fff" stroke="#7a7a7a" stroke-width="0.5"/>
<circle cx="194.48" cy="475.29" r="0.72" fill="#fff" stroke="#7a7a7a" stroke-width="0.5"/>
<circle cx="181.10" cy="476.00" r="0.8111269837220809" fill="#fff" stroke="#7a7a7a" stroke-width="0.5"/>
<circle cx="167.94" cy="477.03" r="0.8111269837220809" fill="#fff" stroke="#7a7a7a" stroke-width="0.5"/>
<circle cx="194.53" cy="475.99" r="0.72" fill="#fff" stroke="#7a7a7a" stroke-width="0.5"/>
<circle cx="181.16" cy="476.86" r="0.72" fill="#fff" stroke="#7a7a7a" stroke-width="0.5"/>
<circle cx="194.57" cy="476.68" r="0.72" fill="#fff" stroke="#7a7a7a" stroke-width="0.5"/>
<circle cx="194.61" cy="477.38" r="0.72" fill="#fff" stroke="#7a7a7a" stroke-width="0.5"/>
<circle cx="194.64" cy="478.07" r="0.72" fill="#fff" stroke="#7a7a7a" stroke-width="0.5"/>
<circle cx="194.66" cy="478.77" r="0.72" fill="#fff" stroke="#7a7a7a" stroke-width="0.5"/>
<circle cx="181.24" cy="478.31" r="0.94" fill="#fff" stroke="#7a7a7a" stroke-width="0.5"/>
<circle cx="168.02" cy="478.31" r="0.9919349550499538" fill="#fff" stroke="#7a7a7a" stroke-width="0.5"/>
<circle cx="194.68" cy="479.46" r="0.72" fill="#fff" stroke="#7a7a7a" stroke-width="0.5"/>
<circle cx="194.69" cy="480.16" r="0.72" fill="#fff" stroke="#7a7a7a" stroke-width="0.5"/>
<circle cx="181.29" cy="480.04" r="0.8111269837220809" fill="#fff" stroke="#7a7a7a" stroke-width="0.5"/>
<circle cx="168.09" cy="480.27" r="0.8111269837220809" fill="#fff" stroke="#7a7a7a" stroke-width="0.5"/>
<circle cx="154.53" cy="476.61" r="1.793330584189518" fill="#fff" stroke="#7a7a7a" stroke-width="0.5"/>
<circle cx="124.36" cy="472.77" r="0.764" fill="#fff" stroke="#7a7a7a" stroke-width="0.5"/>
<circle cx="124.51" cy="472.64" r="2.4" fill="#fff" stroke="#7a7a7a" stroke-width="0.6"/>
<circle cx="192.96" cy="497.77" r="1.6" fill="#1aa7e0"/>
<circle cx="192.24" cy="500.46" r="1.2" fill="#d01020"/>
<circle cx="70.70" cy="452.10" r="2.0" fill="#e00010"/>
<circle cx="83.55" cy="456.98" r="2.4" fill="#e00010"/>
<circle cx="84.01" cy="422.93" r="1.2" fill="#d01020"/>
<circle cx="88.72" cy="434.94" r="1.2" fill="#d01020"/>
<circle cx="49.36" cy="474.30" r="1.3" fill="#c01020"/>
<circle cx="87.71" cy="421.32" r="1.2" fill="#1aa0d0"/>
<circle cx="92.94" cy="433.89" r="1.2" fill="#1aa0d0"/>
<circle cx="100.13" cy="444.39" r="1.3" fill="#1aa0d0"/>
<circle cx="69.99" cy="432.93" r="1.2" fill="#1aa0d0"/>
<text transform="translate(200.74,431.70) rotate(330.0)" font-size="4.6" text-anchor="middle" dy="1.6" style="font-family:'Liberation Sans',sans-serif;fill:#4a4a4a;stroke:none">at</text>
<text transform="translate(205.77,429.42) rotate(330.3)" font-size="4.6" text-anchor="middle" dy="1.6" style="font-family:'Liberation Sans',sans-serif;fill:#4a4a4a;stroke:none">ar</text>
<text transform="translate(210.26,426.20) rotate(330.0)" font-size="4.6" text-anchor="middle" dy="1.6" style="font-family:'Liberation Sans',sans-serif;fill:#4a4a4a;stroke:none">aq</text>
<text transform="translate(214.39,423.35) rotate(329.8)" font-size="4.6" text-anchor="middle" dy="1.6" style="font-family:'Liberation Sans',sans-serif;fill:#4a4a4a;stroke:none">au</text>
<text transform="translate(115.00,393.20) rotate(90.0)" font-size="4.6" text-anchor="middle" dy="1.6" style="font-family:'Liberation Sans',sans-serif;fill:#4a4a4a;stroke:none">ab</text>
<text transform="translate(84.40,392.32) rotate(71.0)" font-size="4.6" text-anchor="middle" dy="1.6" style="font-family:'Liberation Sans',sans-serif;fill:#4a4a4a;stroke:none">aj</text>
<text transform="translate(79.79,394.04) rotate(68.0)" font-size="4.6" text-anchor="middle" dy="1.6" style="font-family:'Liberation Sans',sans-serif;fill:#4a4a4a;stroke:none">ak</text>
<text transform="translate(29.79,418.15) rotate(36.5)" font-size="4.6" text-anchor="middle" dy="1.6" style="font-family:'Liberation Sans',sans-serif;fill:#4a4a4a;stroke:none">ai</text>
<text transform="translate(26.10,423.47) rotate(33.0)" font-size="4.6" text-anchor="middle" dy="1.6" style="font-family:'Liberation Sans',sans-serif;fill:#4a4a4a;stroke:none">ac</text>
<text transform="translate(19.17,443.45) rotate(21.5)" font-size="4.6" text-anchor="middle" dy="1.6" style="font-family:'Liberation Sans',sans-serif;fill:#4a4a4a;stroke:none">ag</text>
<text transform="translate(25.06,444.86) rotate(22.0)" font-size="4.6" text-anchor="middle" dy="1.6" style="font-family:'Liberation Sans',sans-serif;fill:#4a4a4a;stroke:none">ae</text>
<text transform="translate(19.72,469.50) rotate(7.0)" font-size="4.6" text-anchor="middle" dy="1.6" style="font-family:'Liberation Sans',sans-serif;fill:#4a4a4a;stroke:none">af</text>
<text transform="translate(70.50,404.12) rotate(60.0)" font-size="4.6" text-anchor="middle" dy="1.6" style="font-family:'Liberation Sans',sans-serif;fill:#4a4a4a;stroke:none">al</text>
<text transform="translate(57.27,414.79) rotate(49.0)" font-size="4.6" text-anchor="middle" dy="1.6" style="font-family:'Liberation Sans',sans-serif;fill:#4a4a4a;stroke:none">aw</text>
<text transform="translate(62.84,417.93) rotate(50.5)" font-size="4.6" text-anchor="middle" dy="1.6" style="font-family:'Liberation Sans',sans-serif;fill:#4a4a4a;stroke:none">ax</text>
<text transform="translate(205.36,507.11) rotate(16.0)" font-size="4.6" text-anchor="middle" dy="1.6" style="font-family:'Liberation Sans',sans-serif;fill:#4a4a4a;stroke:none">bd</text>
<text transform="translate(201.38,497.99) rotate(11.0)" font-size="4.6" text-anchor="middle" dy="1.6" style="font-family:'Liberation Sans',sans-serif;fill:#4a4a4a;stroke:none">bc</text>
<text transform="translate(214.76,488.18) rotate(4.0)" font-size="4.6" text-anchor="middle" dy="1.6" style="font-family:'Liberation Sans',sans-serif;fill:#4a4a4a;stroke:none">ay</text>
<text transform="translate(48.45,543.26) rotate(-43.0)" font-size="4.6" text-anchor="middle" dy="1.6" style="font-family:'Liberation Sans',sans-serif;fill:#4a4a4a;stroke:none">az</text></svg>
</body></html>
